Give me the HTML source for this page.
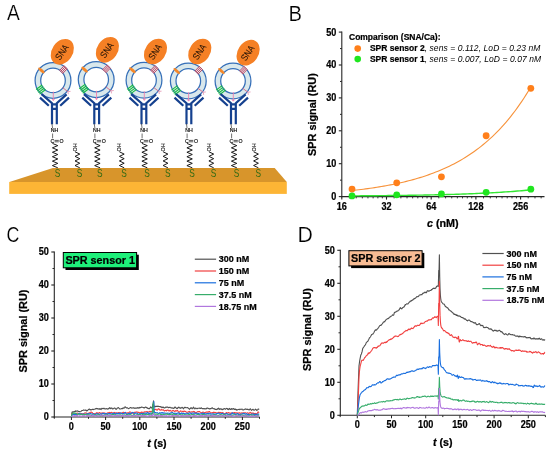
<!DOCTYPE html>
<html><head><meta charset="utf-8"><style>
html,body{margin:0;padding:0;background:#fff;width:550px;height:453px;overflow:hidden}
svg{display:block;filter:blur(0.3px);font-family:"Liberation Sans", sans-serif}
</style></head><body>
<svg width="550" height="453" viewBox="0 0 550 453" font-family="Liberation Sans, sans-serif">
<rect width="550" height="453" fill="#fff"/>
<text x="0" y="0" font-size="21.3" fill="#000" stroke="#fff" stroke-width="0.2" transform="translate(7.0,20.3) scale(0.9,1.0)">A</text>
<text x="0" y="0" font-size="21.3" fill="#000" stroke="#fff" stroke-width="0.2" transform="translate(288.6,20.7) scale(0.95,1.0)">B</text>
<text x="0" y="0" font-size="21.3" fill="#000" stroke="#fff" stroke-width="0.2" transform="translate(6.4,242.2) scale(0.84,1.0)">C</text>
<text x="0" y="0" font-size="21.3" fill="#000" stroke="#fff" stroke-width="0.2" transform="translate(297.4,242.2) scale(1.0,1.0)">D</text>
<polygon points="52.9,168 274.7,168 286.8,182 9.4,182" fill="#D8952B"/>
<rect x="9.2" y="182" width="277.6" height="11.9" fill="#FDB535"/>
<circle cx="53.00" cy="80.4" r="15.1" fill="none" stroke="#D9E8EC" stroke-width="5.4"/>
<circle cx="53.00" cy="80.4" r="17.9" fill="none" stroke="#356FB8" stroke-width="1.25"/>
<circle cx="53.00" cy="80.4" r="12.3" fill="none" stroke="#356FB8" stroke-width="1.25"/>
<ellipse cx="0" cy="0" rx="4.0" ry="1.5" fill="#F5882A" transform="translate(41.40,70.40) rotate(42)"/>
<g transform="translate(53.00,80.40) rotate(-46) translate(15.0,0)"><rect x="-3.2" y="-2.4" width="6.4" height="4.8" fill="#F2E2E6"/><line x1="-3.3" y1="-2.2" x2="3.3" y2="-2.2" stroke="#A3284A" stroke-width="0.75"/><line x1="-3.3" y1="-0.75" x2="3.3" y2="-0.75" stroke="#A3284A" stroke-width="0.75"/><line x1="-3.3" y1="0.75" x2="3.3" y2="0.75" stroke="#A3284A" stroke-width="0.75"/><line x1="-3.3" y1="2.2" x2="3.3" y2="2.2" stroke="#A3284A" stroke-width="0.75"/><line x1="-3.0" y1="-2.5" x2="-3.0" y2="2.5" stroke="#B3304C" stroke-width="0.6"/><line x1="3.0" y1="-2.5" x2="3.0" y2="2.5" stroke="#B3304C" stroke-width="0.6"/></g>
<g transform="translate(53.00,80.40) rotate(143) translate(15.2,0)"><line x1="-3.8" y1="-2.85" x2="3.8" y2="-2.85" stroke="#14BE3C" stroke-width="1.1"/><line x1="-3.8" y1="-0.95" x2="3.8" y2="-0.95" stroke="#14BE3C" stroke-width="1.1"/><line x1="-3.8" y1="0.95" x2="3.8" y2="0.95" stroke="#14BE3C" stroke-width="1.1"/><line x1="-3.8" y1="2.85" x2="3.8" y2="2.85" stroke="#14BE3C" stroke-width="1.1"/></g>
<line x1="53.30" y1="91.60" x2="53.30" y2="100.40" stroke="#EE7FAF" stroke-width="0.9"/>
<path d="M52.00,99.00 L53.30,100.60 L54.60,99.00" fill="none" stroke="#EE7FAF" stroke-width="0.8"/>
<g transform="translate(53.00,80.40) rotate(37)"><line x1="12" y1="0" x2="18.6" y2="0" stroke="#D4708F" stroke-width="0.9"/><path d="M18.6,0 L20.6,-1.8 M18.6,0 L20.6,1.8" fill="none" stroke="#E59AB5" stroke-width="0.8"/></g>
<path d="M41.60,94.2 L52.00,103.2 L52.00,124.2 M66.60,94.4 L56.80,103.2 L56.80,124.2 M52.00,104.4 H56.80 M52.00,108.9 H56.80" fill="none" stroke="#15418F" stroke-width="2.2"/>
<path d="M40.00,97.6 L48.80,105.8 M69.00,97.6 L60.20,105.8" fill="none" stroke="#15418F" stroke-width="2.2"/>
<line x1="52.00" y1="124" x2="52.60" y2="128.3" stroke="#333" stroke-width="0.7"/>
<text x="50.70" y="132.4" font-size="5.2" fill="#000" stroke="#000" stroke-width="0.15">NH</text>
<line x1="52.60" y1="133.5" x2="52.60" y2="138.3" stroke="#333" stroke-width="0.7"/>
<text x="50.40" y="142.9" font-size="5.2" fill="#000" stroke="#000" stroke-width="0.15">C</text>
<path d="M54.50,140.4 H58.80 M54.50,141.8 H58.80" stroke="#111" stroke-width="0.7"/>
<text x="59.40" y="142.9" font-size="5.2" fill="#000" stroke="#000" stroke-width="0.15">O</text>
<path d="M52.40,143.40 L57.80,145.62 L52.40,147.84 L57.80,150.05 L52.40,152.27 L57.80,154.49 L52.40,156.71 L57.80,158.93 L52.40,161.15 L57.80,163.36 L52.40,165.58 L57.80,167.80" fill="none" stroke="#1a1a1a" stroke-width="1.0"/>
<text x="0" y="0" font-size="10.2" fill="#336B14" transform="translate(54.70,176.9) scale(0.82,1)">S</text>
<text x="0" y="0" font-size="5.4" fill="#000" stroke="#000" stroke-width="0.1" transform="translate(77.00,151.4) rotate(-90)">OH</text>
<path d="M75.00,151.80 L79.80,154.09 L75.00,156.37 L79.80,158.66 L75.00,160.94 L79.80,163.23 L75.00,165.51 L79.80,167.80" fill="none" stroke="#1a1a1a" stroke-width="1.0"/>
<text x="0" y="0" font-size="10.2" fill="#336B14" transform="translate(76.80,176.9) scale(0.82,1)">S</text>
<ellipse cx="0" cy="0" rx="13.8" ry="10.4" fill="#F58025" transform="translate(62.3,51.8) rotate(-56)"/>
<text x="0" y="0" font-size="9.4" fill="#1E1006" stroke="#1E1006" stroke-width="0.05" text-anchor="middle" transform="translate(61.90,52.20) rotate(-56) translate(0,3.2) scale(0.84,1)">SNA</text>
<circle cx="96.20" cy="79.6" r="15.1" fill="none" stroke="#D9E8EC" stroke-width="5.4"/>
<circle cx="96.20" cy="79.6" r="17.9" fill="none" stroke="#356FB8" stroke-width="1.25"/>
<circle cx="96.20" cy="79.6" r="12.3" fill="none" stroke="#356FB8" stroke-width="1.25"/>
<ellipse cx="0" cy="0" rx="4.0" ry="1.5" fill="#F5882A" transform="translate(84.60,69.60) rotate(42)"/>
<g transform="translate(96.20,79.60) rotate(-46) translate(15.0,0)"><rect x="-3.2" y="-2.4" width="6.4" height="4.8" fill="#F2E2E6"/><line x1="-3.3" y1="-2.2" x2="3.3" y2="-2.2" stroke="#A3284A" stroke-width="0.75"/><line x1="-3.3" y1="-0.75" x2="3.3" y2="-0.75" stroke="#A3284A" stroke-width="0.75"/><line x1="-3.3" y1="0.75" x2="3.3" y2="0.75" stroke="#A3284A" stroke-width="0.75"/><line x1="-3.3" y1="2.2" x2="3.3" y2="2.2" stroke="#A3284A" stroke-width="0.75"/><line x1="-3.0" y1="-2.5" x2="-3.0" y2="2.5" stroke="#B3304C" stroke-width="0.6"/><line x1="3.0" y1="-2.5" x2="3.0" y2="2.5" stroke="#B3304C" stroke-width="0.6"/></g>
<g transform="translate(96.20,79.60) rotate(143) translate(15.2,0)"><line x1="-3.8" y1="-2.85" x2="3.8" y2="-2.85" stroke="#14BE3C" stroke-width="1.1"/><line x1="-3.8" y1="-0.95" x2="3.8" y2="-0.95" stroke="#14BE3C" stroke-width="1.1"/><line x1="-3.8" y1="0.95" x2="3.8" y2="0.95" stroke="#14BE3C" stroke-width="1.1"/><line x1="-3.8" y1="2.85" x2="3.8" y2="2.85" stroke="#14BE3C" stroke-width="1.1"/></g>
<line x1="96.50" y1="90.80" x2="96.50" y2="99.60" stroke="#EE7FAF" stroke-width="0.9"/>
<path d="M95.20,98.20 L96.50,99.80 L97.80,98.20" fill="none" stroke="#EE7FAF" stroke-width="0.8"/>
<g transform="translate(96.20,79.60) rotate(37)"><line x1="12" y1="0" x2="18.6" y2="0" stroke="#D4708F" stroke-width="0.9"/><path d="M18.6,0 L20.6,-1.8 M18.6,0 L20.6,1.8" fill="none" stroke="#E59AB5" stroke-width="0.8"/></g>
<path d="M83.90,94.2 L94.30,103.2 L94.30,124.2 M108.90,94.4 L99.10,103.2 L99.10,124.2 M94.30,104.4 H99.10 M94.30,108.9 H99.10" fill="none" stroke="#15418F" stroke-width="2.2"/>
<path d="M82.30,97.6 L91.10,105.8 M111.30,97.6 L102.50,105.8" fill="none" stroke="#15418F" stroke-width="2.2"/>
<line x1="94.30" y1="124" x2="94.90" y2="128.3" stroke="#333" stroke-width="0.7"/>
<text x="93.00" y="132.4" font-size="5.2" fill="#000" stroke="#000" stroke-width="0.15">NH</text>
<line x1="94.90" y1="133.5" x2="94.90" y2="138.3" stroke="#333" stroke-width="0.7"/>
<text x="92.70" y="142.9" font-size="5.2" fill="#000" stroke="#000" stroke-width="0.15">C</text>
<path d="M96.80,140.4 H101.10 M96.80,141.8 H101.10" stroke="#111" stroke-width="0.7"/>
<text x="101.70" y="142.9" font-size="5.2" fill="#000" stroke="#000" stroke-width="0.15">O</text>
<path d="M94.70,143.40 L100.10,145.62 L94.70,147.84 L100.10,150.05 L94.70,152.27 L100.10,154.49 L94.70,156.71 L100.10,158.93 L94.70,161.15 L100.10,163.36 L94.70,165.58 L100.10,167.80" fill="none" stroke="#1a1a1a" stroke-width="1.0"/>
<text x="0" y="0" font-size="10.2" fill="#336B14" transform="translate(97.00,176.9) scale(0.82,1)">S</text>
<text x="0" y="0" font-size="5.4" fill="#000" stroke="#000" stroke-width="0.1" transform="translate(121.40,151.4) rotate(-90)">OH</text>
<path d="M119.40,151.80 L124.20,154.09 L119.40,156.37 L124.20,158.66 L119.40,160.94 L124.20,163.23 L119.40,165.51 L124.20,167.80" fill="none" stroke="#1a1a1a" stroke-width="1.0"/>
<text x="0" y="0" font-size="10.2" fill="#336B14" transform="translate(121.20,176.9) scale(0.82,1)">S</text>
<ellipse cx="0" cy="0" rx="13.8" ry="10.4" fill="#F58025" transform="translate(107.4,49.8) rotate(-56)"/>
<text x="0" y="0" font-size="9.4" fill="#1E1006" stroke="#1E1006" stroke-width="0.05" text-anchor="middle" transform="translate(107.00,50.20) rotate(-56) translate(0,3.2) scale(0.84,1)">SNA</text>
<circle cx="144.00" cy="80.2" r="15.1" fill="none" stroke="#D9E8EC" stroke-width="5.4"/>
<circle cx="144.00" cy="80.2" r="17.9" fill="none" stroke="#356FB8" stroke-width="1.25"/>
<circle cx="144.00" cy="80.2" r="12.3" fill="none" stroke="#356FB8" stroke-width="1.25"/>
<ellipse cx="0" cy="0" rx="4.0" ry="1.5" fill="#F5882A" transform="translate(132.40,70.20) rotate(42)"/>
<g transform="translate(144.00,80.20) rotate(-46) translate(15.0,0)"><rect x="-3.2" y="-2.4" width="6.4" height="4.8" fill="#F2E2E6"/><line x1="-3.3" y1="-2.2" x2="3.3" y2="-2.2" stroke="#A3284A" stroke-width="0.75"/><line x1="-3.3" y1="-0.75" x2="3.3" y2="-0.75" stroke="#A3284A" stroke-width="0.75"/><line x1="-3.3" y1="0.75" x2="3.3" y2="0.75" stroke="#A3284A" stroke-width="0.75"/><line x1="-3.3" y1="2.2" x2="3.3" y2="2.2" stroke="#A3284A" stroke-width="0.75"/><line x1="-3.0" y1="-2.5" x2="-3.0" y2="2.5" stroke="#B3304C" stroke-width="0.6"/><line x1="3.0" y1="-2.5" x2="3.0" y2="2.5" stroke="#B3304C" stroke-width="0.6"/></g>
<g transform="translate(144.00,80.20) rotate(143) translate(15.2,0)"><line x1="-3.8" y1="-2.85" x2="3.8" y2="-2.85" stroke="#14BE3C" stroke-width="1.1"/><line x1="-3.8" y1="-0.95" x2="3.8" y2="-0.95" stroke="#14BE3C" stroke-width="1.1"/><line x1="-3.8" y1="0.95" x2="3.8" y2="0.95" stroke="#14BE3C" stroke-width="1.1"/><line x1="-3.8" y1="2.85" x2="3.8" y2="2.85" stroke="#14BE3C" stroke-width="1.1"/></g>
<line x1="144.30" y1="91.40" x2="144.30" y2="100.20" stroke="#EE7FAF" stroke-width="0.9"/>
<path d="M143.00,98.80 L144.30,100.40 L145.60,98.80" fill="none" stroke="#EE7FAF" stroke-width="0.8"/>
<g transform="translate(144.00,80.20) rotate(37)"><line x1="12" y1="0" x2="18.6" y2="0" stroke="#D4708F" stroke-width="0.9"/><path d="M18.6,0 L20.6,-1.8 M18.6,0 L20.6,1.8" fill="none" stroke="#E59AB5" stroke-width="0.8"/></g>
<path d="M131.10,94.2 L141.50,103.2 L141.50,124.2 M156.10,94.4 L146.30,103.2 L146.30,124.2 M141.50,104.4 H146.30 M141.50,108.9 H146.30" fill="none" stroke="#15418F" stroke-width="2.2"/>
<path d="M129.50,97.6 L138.30,105.8 M158.50,97.6 L149.70,105.8" fill="none" stroke="#15418F" stroke-width="2.2"/>
<line x1="141.50" y1="124" x2="142.10" y2="128.3" stroke="#333" stroke-width="0.7"/>
<text x="140.20" y="132.4" font-size="5.2" fill="#000" stroke="#000" stroke-width="0.15">NH</text>
<line x1="142.10" y1="133.5" x2="142.10" y2="138.3" stroke="#333" stroke-width="0.7"/>
<text x="139.90" y="142.9" font-size="5.2" fill="#000" stroke="#000" stroke-width="0.15">C</text>
<path d="M144.00,140.4 H148.30 M144.00,141.8 H148.30" stroke="#111" stroke-width="0.7"/>
<text x="148.90" y="142.9" font-size="5.2" fill="#000" stroke="#000" stroke-width="0.15">O</text>
<path d="M141.90,143.40 L147.30,145.62 L141.90,147.84 L147.30,150.05 L141.90,152.27 L147.30,154.49 L141.90,156.71 L147.30,158.93 L141.90,161.15 L147.30,163.36 L141.90,165.58 L147.30,167.80" fill="none" stroke="#1a1a1a" stroke-width="1.0"/>
<text x="0" y="0" font-size="10.2" fill="#336B14" transform="translate(144.20,176.9) scale(0.82,1)">S</text>
<text x="0" y="0" font-size="5.4" fill="#000" stroke="#000" stroke-width="0.1" transform="translate(165.10,151.4) rotate(-90)">OH</text>
<path d="M163.10,151.80 L167.90,154.09 L163.10,156.37 L167.90,158.66 L163.10,160.94 L167.90,163.23 L163.10,165.51 L167.90,167.80" fill="none" stroke="#1a1a1a" stroke-width="1.0"/>
<text x="0" y="0" font-size="10.2" fill="#336B14" transform="translate(164.90,176.9) scale(0.82,1)">S</text>
<ellipse cx="0" cy="0" rx="13.8" ry="10.4" fill="#F58025" transform="translate(155.5,51.5) rotate(-56)"/>
<text x="0" y="0" font-size="9.4" fill="#1E1006" stroke="#1E1006" stroke-width="0.05" text-anchor="middle" transform="translate(155.10,51.90) rotate(-56) translate(0,3.2) scale(0.84,1)">SNA</text>
<circle cx="188.30" cy="81.0" r="15.1" fill="none" stroke="#D9E8EC" stroke-width="5.4"/>
<circle cx="188.30" cy="81.0" r="17.9" fill="none" stroke="#356FB8" stroke-width="1.25"/>
<circle cx="188.30" cy="81.0" r="12.3" fill="none" stroke="#356FB8" stroke-width="1.25"/>
<ellipse cx="0" cy="0" rx="4.0" ry="1.5" fill="#F5882A" transform="translate(176.70,71.00) rotate(42)"/>
<g transform="translate(188.30,81.00) rotate(-46) translate(15.0,0)"><rect x="-3.2" y="-2.4" width="6.4" height="4.8" fill="#F2E2E6"/><line x1="-3.3" y1="-2.2" x2="3.3" y2="-2.2" stroke="#A3284A" stroke-width="0.75"/><line x1="-3.3" y1="-0.75" x2="3.3" y2="-0.75" stroke="#A3284A" stroke-width="0.75"/><line x1="-3.3" y1="0.75" x2="3.3" y2="0.75" stroke="#A3284A" stroke-width="0.75"/><line x1="-3.3" y1="2.2" x2="3.3" y2="2.2" stroke="#A3284A" stroke-width="0.75"/><line x1="-3.0" y1="-2.5" x2="-3.0" y2="2.5" stroke="#B3304C" stroke-width="0.6"/><line x1="3.0" y1="-2.5" x2="3.0" y2="2.5" stroke="#B3304C" stroke-width="0.6"/></g>
<g transform="translate(188.30,81.00) rotate(143) translate(15.2,0)"><line x1="-3.8" y1="-2.85" x2="3.8" y2="-2.85" stroke="#14BE3C" stroke-width="1.1"/><line x1="-3.8" y1="-0.95" x2="3.8" y2="-0.95" stroke="#14BE3C" stroke-width="1.1"/><line x1="-3.8" y1="0.95" x2="3.8" y2="0.95" stroke="#14BE3C" stroke-width="1.1"/><line x1="-3.8" y1="2.85" x2="3.8" y2="2.85" stroke="#14BE3C" stroke-width="1.1"/></g>
<line x1="188.60" y1="92.20" x2="188.60" y2="101.00" stroke="#EE7FAF" stroke-width="0.9"/>
<path d="M187.30,99.60 L188.60,101.20 L189.90,99.60" fill="none" stroke="#EE7FAF" stroke-width="0.8"/>
<g transform="translate(188.30,81.00) rotate(37)"><line x1="12" y1="0" x2="18.6" y2="0" stroke="#D4708F" stroke-width="0.9"/><path d="M18.6,0 L20.6,-1.8 M18.6,0 L20.6,1.8" fill="none" stroke="#E59AB5" stroke-width="0.8"/></g>
<path d="M176.10,94.2 L186.50,103.2 L186.50,124.2 M201.10,94.4 L191.30,103.2 L191.30,124.2 M186.50,104.4 H191.30 M186.50,108.9 H191.30" fill="none" stroke="#15418F" stroke-width="2.2"/>
<path d="M174.50,97.6 L183.30,105.8 M203.50,97.6 L194.70,105.8" fill="none" stroke="#15418F" stroke-width="2.2"/>
<line x1="186.50" y1="124" x2="187.10" y2="128.3" stroke="#333" stroke-width="0.7"/>
<text x="185.20" y="132.4" font-size="5.2" fill="#000" stroke="#000" stroke-width="0.15">NH</text>
<line x1="187.10" y1="133.5" x2="187.10" y2="138.3" stroke="#333" stroke-width="0.7"/>
<text x="184.90" y="142.9" font-size="5.2" fill="#000" stroke="#000" stroke-width="0.15">C</text>
<path d="M189.00,140.4 H193.30 M189.00,141.8 H193.30" stroke="#111" stroke-width="0.7"/>
<text x="193.90" y="142.9" font-size="5.2" fill="#000" stroke="#000" stroke-width="0.15">O</text>
<path d="M186.90,143.40 L192.30,145.62 L186.90,147.84 L192.30,150.05 L186.90,152.27 L192.30,154.49 L186.90,156.71 L192.30,158.93 L186.90,161.15 L192.30,163.36 L186.90,165.58 L192.30,167.80" fill="none" stroke="#1a1a1a" stroke-width="1.0"/>
<text x="0" y="0" font-size="10.2" fill="#336B14" transform="translate(189.20,176.9) scale(0.82,1)">S</text>
<text x="0" y="0" font-size="5.4" fill="#000" stroke="#000" stroke-width="0.1" transform="translate(210.90,151.4) rotate(-90)">OH</text>
<path d="M208.90,151.80 L213.70,154.09 L208.90,156.37 L213.70,158.66 L208.90,160.94 L213.70,163.23 L208.90,165.51 L213.70,167.80" fill="none" stroke="#1a1a1a" stroke-width="1.0"/>
<text x="0" y="0" font-size="10.2" fill="#336B14" transform="translate(210.70,176.9) scale(0.82,1)">S</text>
<ellipse cx="0" cy="0" rx="13.8" ry="10.4" fill="#F58025" transform="translate(199.8,51.5) rotate(-56)"/>
<text x="0" y="0" font-size="9.4" fill="#1E1006" stroke="#1E1006" stroke-width="0.05" text-anchor="middle" transform="translate(199.40,51.90) rotate(-56) translate(0,3.2) scale(0.84,1)">SNA</text>
<circle cx="233.00" cy="81.0" r="15.1" fill="none" stroke="#D9E8EC" stroke-width="5.4"/>
<circle cx="233.00" cy="81.0" r="17.9" fill="none" stroke="#356FB8" stroke-width="1.25"/>
<circle cx="233.00" cy="81.0" r="12.3" fill="none" stroke="#356FB8" stroke-width="1.25"/>
<ellipse cx="0" cy="0" rx="4.0" ry="1.5" fill="#F5882A" transform="translate(221.40,71.00) rotate(42)"/>
<g transform="translate(233.00,81.00) rotate(-46) translate(15.0,0)"><rect x="-3.2" y="-2.4" width="6.4" height="4.8" fill="#F2E2E6"/><line x1="-3.3" y1="-2.2" x2="3.3" y2="-2.2" stroke="#A3284A" stroke-width="0.75"/><line x1="-3.3" y1="-0.75" x2="3.3" y2="-0.75" stroke="#A3284A" stroke-width="0.75"/><line x1="-3.3" y1="0.75" x2="3.3" y2="0.75" stroke="#A3284A" stroke-width="0.75"/><line x1="-3.3" y1="2.2" x2="3.3" y2="2.2" stroke="#A3284A" stroke-width="0.75"/><line x1="-3.0" y1="-2.5" x2="-3.0" y2="2.5" stroke="#B3304C" stroke-width="0.6"/><line x1="3.0" y1="-2.5" x2="3.0" y2="2.5" stroke="#B3304C" stroke-width="0.6"/></g>
<g transform="translate(233.00,81.00) rotate(143) translate(15.2,0)"><line x1="-3.8" y1="-2.85" x2="3.8" y2="-2.85" stroke="#14BE3C" stroke-width="1.1"/><line x1="-3.8" y1="-0.95" x2="3.8" y2="-0.95" stroke="#14BE3C" stroke-width="1.1"/><line x1="-3.8" y1="0.95" x2="3.8" y2="0.95" stroke="#14BE3C" stroke-width="1.1"/><line x1="-3.8" y1="2.85" x2="3.8" y2="2.85" stroke="#14BE3C" stroke-width="1.1"/></g>
<line x1="233.30" y1="92.20" x2="233.30" y2="101.00" stroke="#EE7FAF" stroke-width="0.9"/>
<path d="M232.00,99.60 L233.30,101.20 L234.60,99.60" fill="none" stroke="#EE7FAF" stroke-width="0.8"/>
<g transform="translate(233.00,81.00) rotate(37)"><line x1="12" y1="0" x2="18.6" y2="0" stroke="#D4708F" stroke-width="0.9"/><path d="M18.6,0 L20.6,-1.8 M18.6,0 L20.6,1.8" fill="none" stroke="#E59AB5" stroke-width="0.8"/></g>
<path d="M220.60,94.2 L231.00,103.2 L231.00,124.2 M245.60,94.4 L235.80,103.2 L235.80,124.2 M231.00,104.4 H235.80 M231.00,108.9 H235.80" fill="none" stroke="#15418F" stroke-width="2.2"/>
<path d="M219.00,97.6 L227.80,105.8 M248.00,97.6 L239.20,105.8" fill="none" stroke="#15418F" stroke-width="2.2"/>
<line x1="231.00" y1="124" x2="231.60" y2="128.3" stroke="#333" stroke-width="0.7"/>
<text x="229.70" y="132.4" font-size="5.2" fill="#000" stroke="#000" stroke-width="0.15">NH</text>
<line x1="231.60" y1="133.5" x2="231.60" y2="138.3" stroke="#333" stroke-width="0.7"/>
<text x="229.40" y="142.9" font-size="5.2" fill="#000" stroke="#000" stroke-width="0.15">C</text>
<path d="M233.50,140.4 H237.80 M233.50,141.8 H237.80" stroke="#111" stroke-width="0.7"/>
<text x="238.40" y="142.9" font-size="5.2" fill="#000" stroke="#000" stroke-width="0.15">O</text>
<path d="M231.40,143.40 L236.80,145.62 L231.40,147.84 L236.80,150.05 L231.40,152.27 L236.80,154.49 L231.40,156.71 L236.80,158.93 L231.40,161.15 L236.80,163.36 L231.40,165.58 L236.80,167.80" fill="none" stroke="#1a1a1a" stroke-width="1.0"/>
<text x="0" y="0" font-size="10.2" fill="#336B14" transform="translate(233.70,176.9) scale(0.82,1)">S</text>
<text x="0" y="0" font-size="5.4" fill="#000" stroke="#000" stroke-width="0.1" transform="translate(255.60,151.4) rotate(-90)">OH</text>
<path d="M253.60,151.80 L258.40,154.09 L253.60,156.37 L258.40,158.66 L253.60,160.94 L258.40,163.23 L253.60,165.51 L258.40,167.80" fill="none" stroke="#1a1a1a" stroke-width="1.0"/>
<text x="0" y="0" font-size="10.2" fill="#336B14" transform="translate(255.40,176.9) scale(0.82,1)">S</text>
<ellipse cx="0" cy="0" rx="13.8" ry="10.4" fill="#F58025" transform="translate(248.1,52.7) rotate(-56)"/>
<text x="0" y="0" font-size="9.4" fill="#1E1006" stroke="#1E1006" stroke-width="0.05" text-anchor="middle" transform="translate(247.70,53.10) rotate(-56) translate(0,3.2) scale(0.84,1)">SNA</text>
<line x1="341.8" y1="31.599999999999994" x2="341.8" y2="197.2" stroke="#262626" stroke-width="1.1"/>
<line x1="338.8" y1="196.60" x2="341.8" y2="196.60" stroke="#262626" stroke-width="1.1"/>
<text x="0" y="0" font-size="9.5" font-weight="bold" stroke="#000" stroke-width="0.22" text-anchor="end" transform="translate(336.40,200.00) scale(0.96,1.06)">0</text>
<line x1="338.8" y1="163.70" x2="341.8" y2="163.70" stroke="#262626" stroke-width="1.1"/>
<text x="0" y="0" font-size="9.5" font-weight="bold" stroke="#000" stroke-width="0.22" text-anchor="end" transform="translate(336.40,167.10) scale(0.96,1.06)">10</text>
<line x1="338.8" y1="130.80" x2="341.8" y2="130.80" stroke="#262626" stroke-width="1.1"/>
<text x="0" y="0" font-size="9.5" font-weight="bold" stroke="#000" stroke-width="0.22" text-anchor="end" transform="translate(336.40,134.20) scale(0.96,1.06)">20</text>
<line x1="338.8" y1="97.90" x2="341.8" y2="97.90" stroke="#262626" stroke-width="1.1"/>
<text x="0" y="0" font-size="9.5" font-weight="bold" stroke="#000" stroke-width="0.22" text-anchor="end" transform="translate(336.40,101.30) scale(0.96,1.06)">30</text>
<line x1="338.8" y1="65.00" x2="341.8" y2="65.00" stroke="#262626" stroke-width="1.1"/>
<text x="0" y="0" font-size="9.5" font-weight="bold" stroke="#000" stroke-width="0.22" text-anchor="end" transform="translate(336.40,68.40) scale(0.96,1.06)">40</text>
<line x1="338.8" y1="32.10" x2="341.8" y2="32.10" stroke="#262626" stroke-width="1.1"/>
<text x="0" y="0" font-size="9.5" font-weight="bold" stroke="#000" stroke-width="0.22" text-anchor="end" transform="translate(336.40,35.50) scale(0.96,1.06)">50</text>
<line x1="340.0" y1="180.15" x2="341.8" y2="180.15" stroke="#262626" stroke-width="1"/>
<line x1="340.0" y1="147.25" x2="341.8" y2="147.25" stroke="#262626" stroke-width="1"/>
<line x1="340.0" y1="114.35" x2="341.8" y2="114.35" stroke="#262626" stroke-width="1"/>
<line x1="340.0" y1="81.45" x2="341.8" y2="81.45" stroke="#262626" stroke-width="1"/>
<line x1="340.0" y1="48.55" x2="341.8" y2="48.55" stroke="#262626" stroke-width="1"/>
<text x="0" y="0" font-size="10" font-weight="bold" stroke="#000" stroke-width="0.22" text-anchor="middle" transform="translate(315.5,114.6) rotate(-90) scale(1.09,1)">SPR signal (RU)</text>
<line x1="341.3" y1="196.6" x2="544.5" y2="196.6" stroke="#262626" stroke-width="1.1"/>
<line x1="341.80" y1="196.6" x2="341.80" y2="199.6" stroke="#262626" stroke-width="1.1"/>
<text x="0" y="0" font-size="9.5" font-weight="bold" stroke="#000" stroke-width="0.22" text-anchor="middle" transform="translate(341.80,209.50) scale(0.96,1.06)">16</text>
<line x1="386.50" y1="196.6" x2="386.50" y2="199.6" stroke="#262626" stroke-width="1.1"/>
<text x="0" y="0" font-size="9.5" font-weight="bold" stroke="#000" stroke-width="0.22" text-anchor="middle" transform="translate(386.50,209.50) scale(0.96,1.06)">32</text>
<line x1="431.20" y1="196.6" x2="431.20" y2="199.6" stroke="#262626" stroke-width="1.1"/>
<text x="0" y="0" font-size="9.5" font-weight="bold" stroke="#000" stroke-width="0.22" text-anchor="middle" transform="translate(431.20,209.50) scale(0.96,1.06)">64</text>
<line x1="475.90" y1="196.6" x2="475.90" y2="199.6" stroke="#262626" stroke-width="1.1"/>
<text x="0" y="0" font-size="9.5" font-weight="bold" stroke="#000" stroke-width="0.22" text-anchor="middle" transform="translate(475.90,209.50) scale(0.96,1.06)">128</text>
<line x1="520.60" y1="196.6" x2="520.60" y2="199.6" stroke="#262626" stroke-width="1.1"/>
<text x="0" y="0" font-size="9.5" font-weight="bold" stroke="#000" stroke-width="0.22" text-anchor="middle" transform="translate(520.60,209.50) scale(0.96,1.06)">256</text>
<line x1="349.40" y1="196.6" x2="349.40" y2="198.4" stroke="#262626" stroke-width="0.9"/>
<line x1="356.19" y1="196.6" x2="356.19" y2="198.4" stroke="#262626" stroke-width="0.9"/>
<line x1="362.34" y1="196.6" x2="362.34" y2="198.4" stroke="#262626" stroke-width="0.9"/>
<line x1="367.95" y1="196.6" x2="367.95" y2="198.4" stroke="#262626" stroke-width="0.9"/>
<line x1="373.11" y1="196.6" x2="373.11" y2="198.4" stroke="#262626" stroke-width="0.9"/>
<line x1="377.89" y1="196.6" x2="377.89" y2="198.4" stroke="#262626" stroke-width="0.9"/>
<line x1="382.34" y1="196.6" x2="382.34" y2="198.4" stroke="#262626" stroke-width="0.9"/>
<line x1="394.10" y1="196.6" x2="394.10" y2="198.4" stroke="#262626" stroke-width="0.9"/>
<line x1="400.89" y1="196.6" x2="400.89" y2="198.4" stroke="#262626" stroke-width="0.9"/>
<line x1="407.04" y1="196.6" x2="407.04" y2="198.4" stroke="#262626" stroke-width="0.9"/>
<line x1="412.65" y1="196.6" x2="412.65" y2="198.4" stroke="#262626" stroke-width="0.9"/>
<line x1="417.81" y1="196.6" x2="417.81" y2="198.4" stroke="#262626" stroke-width="0.9"/>
<line x1="422.59" y1="196.6" x2="422.59" y2="198.4" stroke="#262626" stroke-width="0.9"/>
<line x1="427.04" y1="196.6" x2="427.04" y2="198.4" stroke="#262626" stroke-width="0.9"/>
<line x1="438.80" y1="196.6" x2="438.80" y2="198.4" stroke="#262626" stroke-width="0.9"/>
<line x1="445.59" y1="196.6" x2="445.59" y2="198.4" stroke="#262626" stroke-width="0.9"/>
<line x1="451.74" y1="196.6" x2="451.74" y2="198.4" stroke="#262626" stroke-width="0.9"/>
<line x1="457.35" y1="196.6" x2="457.35" y2="198.4" stroke="#262626" stroke-width="0.9"/>
<line x1="462.51" y1="196.6" x2="462.51" y2="198.4" stroke="#262626" stroke-width="0.9"/>
<line x1="467.29" y1="196.6" x2="467.29" y2="198.4" stroke="#262626" stroke-width="0.9"/>
<line x1="471.74" y1="196.6" x2="471.74" y2="198.4" stroke="#262626" stroke-width="0.9"/>
<line x1="483.50" y1="196.6" x2="483.50" y2="198.4" stroke="#262626" stroke-width="0.9"/>
<line x1="490.29" y1="196.6" x2="490.29" y2="198.4" stroke="#262626" stroke-width="0.9"/>
<line x1="496.44" y1="196.6" x2="496.44" y2="198.4" stroke="#262626" stroke-width="0.9"/>
<line x1="502.05" y1="196.6" x2="502.05" y2="198.4" stroke="#262626" stroke-width="0.9"/>
<line x1="507.21" y1="196.6" x2="507.21" y2="198.4" stroke="#262626" stroke-width="0.9"/>
<line x1="511.99" y1="196.6" x2="511.99" y2="198.4" stroke="#262626" stroke-width="0.9"/>
<line x1="516.44" y1="196.6" x2="516.44" y2="198.4" stroke="#262626" stroke-width="0.9"/>
<line x1="528.20" y1="196.6" x2="528.20" y2="198.4" stroke="#262626" stroke-width="0.9"/>
<line x1="534.99" y1="196.6" x2="534.99" y2="198.4" stroke="#262626" stroke-width="0.9"/>
<line x1="541.14" y1="196.6" x2="541.14" y2="198.4" stroke="#262626" stroke-width="0.9"/>
<text x="0" y="0" font-size="10" font-weight="bold" stroke="#000" stroke-width="0.22" text-anchor="middle" transform="translate(442.8,226.6) scale(1.08,1.05)"><tspan font-style="italic">c</tspan> (nM)</text>
<polyline points="352.03,190.51 354.29,190.27 356.55,190.01 358.82,189.75 361.08,189.47 363.34,189.19 365.61,188.89 367.87,188.59 370.13,188.27 372.40,187.95 374.66,187.61 376.92,187.26 379.19,186.90 381.45,186.52 383.71,186.13 385.98,185.73 388.24,185.31 390.50,184.88 392.77,184.43 395.03,183.96 397.29,183.48 399.56,182.98 401.82,182.47 404.08,181.93 406.35,181.38 408.61,180.81 410.87,180.22 413.14,179.60 415.40,178.96 417.66,178.30 419.93,177.62 422.19,176.91 424.45,176.18 426.72,175.42 428.98,174.64 431.24,173.82 433.51,172.98 435.77,172.11 438.03,171.20 440.30,170.27 442.56,169.30 444.82,168.29 447.09,167.25 449.35,166.17 451.61,165.06 453.88,163.90 456.14,162.71 458.40,161.46 460.67,160.18 462.93,158.85 465.19,157.47 467.46,156.05 469.72,154.57 471.98,153.04 474.25,151.45 476.51,149.81 478.77,148.11 481.04,146.35 483.30,144.52 485.56,142.63 487.83,140.68 490.09,138.65 492.35,136.55 494.62,134.38 496.88,132.12 499.14,129.79 501.41,127.38 503.67,124.87 505.93,122.28 508.20,119.60 510.46,116.82 512.72,113.94 514.99,110.96 517.25,107.87 519.51,104.67 521.78,101.36 524.04,97.93 526.30,94.37 528.56,90.69 530.83,86.88" fill="none" stroke="#F7923A" stroke-width="1.1"/>
<polyline points="352.03,195.87 354.29,195.86 356.55,195.84 358.82,195.83 361.08,195.81 363.34,195.79 365.61,195.78 367.87,195.76 370.13,195.74 372.40,195.72 374.66,195.70 376.92,195.68 379.19,195.66 381.45,195.64 383.71,195.62 385.98,195.59 388.24,195.57 390.50,195.54 392.77,195.52 395.03,195.49 397.29,195.46 399.56,195.43 401.82,195.40 404.08,195.37 406.35,195.34 408.61,195.31 410.87,195.27 413.14,195.24 415.40,195.20 417.66,195.16 419.93,195.12 422.19,195.08 424.45,195.04 426.72,194.99 428.98,194.95 431.24,194.90 433.51,194.85 435.77,194.80 438.03,194.75 440.30,194.70 442.56,194.64 444.82,194.58 447.09,194.52 449.35,194.46 451.61,194.39 453.88,194.33 456.14,194.26 458.40,194.18 460.67,194.11 462.93,194.03 465.19,193.95 467.46,193.87 469.72,193.78 471.98,193.70 474.25,193.60 476.51,193.51 478.77,193.41 481.04,193.31 483.30,193.20 485.56,193.09 487.83,192.98 490.09,192.86 492.35,192.74 494.62,192.61 496.88,192.48 499.14,192.35 501.41,192.21 503.67,192.06 505.93,191.91 508.20,191.75 510.46,191.59 512.72,191.43 514.99,191.25 517.25,191.07 519.51,190.89 521.78,190.70 524.04,190.50 526.30,190.29 528.56,190.08 530.83,189.86" fill="none" stroke="#33E633" stroke-width="1.4"/>
<circle cx="352.03" cy="189.03" r="3.4" fill="#FF7F1A"/>
<circle cx="396.73" cy="182.78" r="3.4" fill="#FF7F1A"/>
<circle cx="441.43" cy="176.86" r="3.4" fill="#FF7F1A"/>
<circle cx="486.13" cy="135.73" r="3.4" fill="#FF7F1A"/>
<circle cx="530.83" cy="88.36" r="3.4" fill="#FF7F1A"/>
<circle cx="352.03" cy="195.94" r="3.4" fill="#1FE61F"/>
<circle cx="396.73" cy="194.79" r="3.4" fill="#1FE61F"/>
<circle cx="441.43" cy="193.97" r="3.4" fill="#1FE61F"/>
<circle cx="486.13" cy="192.32" r="3.4" fill="#1FE61F"/>
<circle cx="530.83" cy="189.20" r="3.4" fill="#1FE61F"/>
<text x="0" y="0" font-size="8.5" font-weight="bold" stroke="#000" stroke-width="0.22" transform="translate(349,40.4) scale(1,1.1)">Comparison (SNA/Ca):</text>
<circle cx="357.7" cy="48.6" r="3.3" fill="#FF7F1A"/>
<circle cx="357.7" cy="59.1" r="3.3" fill="#1FE61F"/>
<text x="0" y="0" font-size="8.5" transform="translate(369.9,51.2) scale(1,1.1)"><tspan font-weight="bold" stroke="#000" stroke-width="0.2">SPR sensor 2</tspan><tspan font-style="italic" letter-spacing="0.08">, sens = 0.112, LoD = 0.23 nM</tspan></text>
<text x="0" y="0" font-size="8.5" transform="translate(369.9,61.6) scale(1,1.1)"><tspan font-weight="bold" stroke="#000" stroke-width="0.2">SPR sensor 1</tspan><tspan font-style="italic" letter-spacing="0.08">, sens = 0.007, LoD = 0.07 nM</tspan></text>
<line x1="54.3" y1="251.5" x2="54.3" y2="417.6" stroke="#262626" stroke-width="1.1"/>
<line x1="51.3" y1="417.00" x2="54.3" y2="417.00" stroke="#262626" stroke-width="1.1"/>
<text x="0" y="0" font-size="9.5" font-weight="bold" stroke="#000" stroke-width="0.22" text-anchor="end" transform="translate(48.90,420.40) scale(0.96,1.06)">0</text>
<line x1="51.3" y1="384.00" x2="54.3" y2="384.00" stroke="#262626" stroke-width="1.1"/>
<text x="0" y="0" font-size="9.5" font-weight="bold" stroke="#000" stroke-width="0.22" text-anchor="end" transform="translate(48.90,387.40) scale(0.96,1.06)">10</text>
<line x1="51.3" y1="351.00" x2="54.3" y2="351.00" stroke="#262626" stroke-width="1.1"/>
<text x="0" y="0" font-size="9.5" font-weight="bold" stroke="#000" stroke-width="0.22" text-anchor="end" transform="translate(48.90,354.40) scale(0.96,1.06)">20</text>
<line x1="51.3" y1="318.00" x2="54.3" y2="318.00" stroke="#262626" stroke-width="1.1"/>
<text x="0" y="0" font-size="9.5" font-weight="bold" stroke="#000" stroke-width="0.22" text-anchor="end" transform="translate(48.90,321.40) scale(0.96,1.06)">30</text>
<line x1="51.3" y1="285.00" x2="54.3" y2="285.00" stroke="#262626" stroke-width="1.1"/>
<text x="0" y="0" font-size="9.5" font-weight="bold" stroke="#000" stroke-width="0.22" text-anchor="end" transform="translate(48.90,288.40) scale(0.96,1.06)">40</text>
<line x1="51.3" y1="252.00" x2="54.3" y2="252.00" stroke="#262626" stroke-width="1.1"/>
<text x="0" y="0" font-size="9.5" font-weight="bold" stroke="#000" stroke-width="0.22" text-anchor="end" transform="translate(48.90,255.40) scale(0.96,1.06)">50</text>
<line x1="52.5" y1="400.50" x2="54.3" y2="400.50" stroke="#262626" stroke-width="1"/>
<line x1="52.5" y1="367.50" x2="54.3" y2="367.50" stroke="#262626" stroke-width="1"/>
<line x1="52.5" y1="334.50" x2="54.3" y2="334.50" stroke="#262626" stroke-width="1"/>
<line x1="52.5" y1="301.50" x2="54.3" y2="301.50" stroke="#262626" stroke-width="1"/>
<line x1="52.5" y1="268.50" x2="54.3" y2="268.50" stroke="#262626" stroke-width="1"/>
<text x="0" y="0" font-size="10" font-weight="bold" stroke="#000" stroke-width="0.22" text-anchor="middle" transform="translate(26.5,331) rotate(-90) scale(1.09,1)">SPR signal (RU)</text>
<line x1="53.8" y1="417.0" x2="259.50" y2="417.0" stroke="#262626" stroke-width="1.1"/>
<line x1="54.30" y1="417.0" x2="54.30" y2="418.8" stroke="#262626" stroke-width="1"/>
<line x1="71.40" y1="417.0" x2="71.40" y2="420.0" stroke="#262626" stroke-width="1"/>
<text x="0" y="0" font-size="9.5" font-weight="bold" stroke="#000" stroke-width="0.22" text-anchor="middle" transform="translate(71.40,429.80) scale(0.96,1.06)">0</text>
<line x1="88.50" y1="417.0" x2="88.50" y2="418.8" stroke="#262626" stroke-width="1"/>
<line x1="105.60" y1="417.0" x2="105.60" y2="420.0" stroke="#262626" stroke-width="1"/>
<text x="0" y="0" font-size="9.5" font-weight="bold" stroke="#000" stroke-width="0.22" text-anchor="middle" transform="translate(105.60,429.80) scale(0.96,1.06)">50</text>
<line x1="122.70" y1="417.0" x2="122.70" y2="418.8" stroke="#262626" stroke-width="1"/>
<line x1="139.80" y1="417.0" x2="139.80" y2="420.0" stroke="#262626" stroke-width="1"/>
<text x="0" y="0" font-size="9.5" font-weight="bold" stroke="#000" stroke-width="0.22" text-anchor="middle" transform="translate(139.80,429.80) scale(0.96,1.06)">100</text>
<line x1="156.90" y1="417.0" x2="156.90" y2="418.8" stroke="#262626" stroke-width="1"/>
<line x1="174.00" y1="417.0" x2="174.00" y2="420.0" stroke="#262626" stroke-width="1"/>
<text x="0" y="0" font-size="9.5" font-weight="bold" stroke="#000" stroke-width="0.22" text-anchor="middle" transform="translate(174.00,429.80) scale(0.96,1.06)">150</text>
<line x1="191.10" y1="417.0" x2="191.10" y2="418.8" stroke="#262626" stroke-width="1"/>
<line x1="208.20" y1="417.0" x2="208.20" y2="420.0" stroke="#262626" stroke-width="1"/>
<text x="0" y="0" font-size="9.5" font-weight="bold" stroke="#000" stroke-width="0.22" text-anchor="middle" transform="translate(208.20,429.80) scale(0.96,1.06)">200</text>
<line x1="225.30" y1="417.0" x2="225.30" y2="418.8" stroke="#262626" stroke-width="1"/>
<line x1="242.40" y1="417.0" x2="242.40" y2="420.0" stroke="#262626" stroke-width="1"/>
<text x="0" y="0" font-size="9.5" font-weight="bold" stroke="#000" stroke-width="0.22" text-anchor="middle" transform="translate(242.40,429.80) scale(0.96,1.06)">250</text>
<line x1="259.50" y1="417.0" x2="259.50" y2="418.8" stroke="#262626" stroke-width="1"/>
<text x="0" y="0" font-size="10" font-weight="bold" stroke="#000" stroke-width="0.22" text-anchor="middle" transform="translate(156.90,447.20) scale(1.06,1.08)"><tspan font-style="italic">t</tspan> (s)</text>
<clipPath id="clipC"><rect x="54.400000000000006" y="247.0" width="205" height="170.5"/></clipPath>
<g clip-path="url(#clipC)">
<polyline points="71.40,417.00 71.74,413.51 72.08,411.91 72.43,411.81 72.77,412.09 73.11,412.10 73.45,411.88 73.79,411.54 74.14,411.76 74.48,411.45 74.82,411.40 75.16,411.36 75.50,410.92 75.85,411.33 76.19,411.16 76.53,411.10 76.87,411.08 77.21,410.99 77.56,410.90 77.90,411.25 78.24,411.50 78.58,411.33 78.92,411.59 79.27,411.78 79.61,411.57 79.95,411.72 80.29,411.80 80.63,411.65 80.98,411.41 81.32,411.06 81.66,410.79 82.00,410.58 82.34,410.46 82.69,410.46 83.03,410.44 83.37,410.10 83.71,409.92 84.05,410.09 84.40,410.17 84.74,410.18 85.08,410.33 85.42,409.99 85.76,410.07 86.11,410.26 86.45,410.48 86.79,411.10 87.13,410.74 87.47,410.43 87.82,410.37 88.16,409.61 88.50,409.42 88.84,409.36 89.18,409.06 89.53,409.12 89.87,409.58 90.21,409.55 90.55,409.47 90.89,410.06 91.24,409.64 91.58,409.80 91.92,409.73 92.26,409.39 92.60,409.44 92.95,409.27 93.29,409.62 93.63,409.34 93.97,409.33 94.31,409.27 94.66,409.16 95.00,409.01 95.34,408.82 95.68,408.95 96.02,408.66 96.37,408.59 96.71,408.29 97.05,408.59 97.39,408.51 97.73,408.67 98.08,409.08 98.42,408.93 98.76,408.83 99.10,409.21 99.44,409.04 99.79,408.50 100.13,409.14 100.47,408.90 100.81,409.32 101.15,409.55 101.50,408.82 101.84,408.27 102.18,408.37 102.52,408.54 102.86,408.72 103.21,408.81 103.55,408.29 103.89,408.32 104.23,408.40 104.57,408.76 104.92,408.89 105.26,408.88 105.60,408.85 105.94,408.76 106.28,408.73 106.63,408.60 106.97,408.98 107.31,409.15 107.65,408.84 107.99,408.83 108.34,408.85 108.68,408.42 109.02,408.57 109.36,408.03 109.70,407.68 110.05,408.09 110.39,408.53 110.73,408.71 111.07,408.12 111.41,408.20 111.76,408.00 112.10,408.16 112.44,408.94 112.78,408.80 113.12,408.73 113.47,408.81 113.81,408.36 114.15,408.29 114.49,407.99 114.83,408.12 115.18,408.29 115.52,408.78 115.86,409.32 116.20,409.03 116.54,409.24 116.89,408.60 117.23,408.14 117.57,408.01 117.91,407.68 118.25,407.57 118.60,407.71 118.94,408.17 119.28,408.51 119.62,408.85 119.96,409.08 120.31,409.03 120.65,408.88 120.99,408.70 121.33,408.51 121.67,408.82 122.02,408.80 122.36,408.80 122.70,408.46 123.04,407.87 123.38,407.99 123.73,408.20 124.07,407.98 124.41,407.93 124.75,407.34 125.09,406.67 125.44,407.31 125.78,407.38 126.12,407.69 126.46,408.03 126.80,407.71 127.15,407.74 127.49,407.79 127.83,408.25 128.17,408.39 128.51,408.60 128.86,408.59 129.20,408.34 129.54,408.14 129.88,407.77 130.22,407.71 130.57,407.51 130.91,407.62 131.25,407.89 131.59,407.99 131.93,408.16 132.28,408.08 132.62,407.95 132.96,407.77 133.30,407.94 133.64,407.81 133.99,407.98 134.33,408.27 134.67,407.99 135.01,408.31 135.35,408.06 135.70,408.01 136.04,408.20 136.38,408.25 136.72,408.00 137.06,407.85 137.41,407.86 137.75,407.65 138.09,408.30 138.43,407.89 138.77,407.97 139.12,407.85 139.46,407.36 139.80,408.10 140.14,407.67 140.48,407.55 140.83,407.56 141.17,407.16 141.51,407.01 141.85,407.20 142.19,407.23 142.54,407.32 142.88,407.39 143.22,407.65 143.56,407.54 143.90,407.63 144.25,408.03 144.59,407.73 144.93,407.53 145.27,407.19 145.61,407.06 145.96,406.99 146.30,407.49 146.64,407.74 146.98,407.61 147.32,408.31 147.67,408.17 148.01,408.38 148.35,408.57 148.69,408.38 149.03,408.79 149.38,408.77 149.72,408.43 150.06,407.72 150.40,407.38 150.74,406.92 151.09,407.19 151.43,408.02 151.77,407.84 152.11,407.90 152.45,407.91 152.80,404.22 153.14,404.19 153.48,400.74 153.82,405.19 154.16,406.48 154.51,406.89 154.85,406.96 155.19,406.81 155.53,406.35 155.87,406.42 156.22,406.19 156.56,406.22 156.90,406.48 157.24,406.16 157.58,406.43 157.93,406.50 158.27,406.22 158.61,406.29 158.95,406.37 159.29,406.42 159.64,406.61 159.98,406.73 160.32,406.74 160.66,406.55 161.00,407.14 161.35,407.13 161.69,407.03 162.03,407.68 162.37,407.13 162.71,407.18 163.06,407.46 163.40,407.07 163.74,407.47 164.08,408.01 164.42,407.91 164.77,408.01 165.11,407.78 165.45,407.32 165.79,407.17 166.13,407.14 166.48,407.36 166.82,407.14 167.16,407.13 167.50,407.19 167.84,407.03 168.19,407.56 168.53,407.78 168.87,407.51 169.21,407.57 169.55,407.41 169.90,407.18 170.24,407.66 170.58,407.69 170.92,407.79 171.26,407.82 171.61,408.09 171.95,407.86 172.29,407.84 172.63,408.28 172.97,407.98 173.32,408.38 173.66,408.24 174.00,408.15 174.34,408.02 174.68,407.11 175.03,407.45 175.37,407.12 175.71,407.30 176.05,408.10 176.39,408.23 176.74,408.59 177.08,408.42 177.42,408.49 177.76,407.70 178.10,407.61 178.45,407.69 178.79,407.02 179.13,407.58 179.47,407.64 179.81,407.69 180.16,408.39 180.50,408.02 180.84,407.80 181.18,407.97 181.52,407.92 181.87,407.52 182.21,407.27 182.55,407.74 182.89,407.83 183.23,408.65 183.58,408.81 183.92,408.22 184.26,407.75 184.60,407.34 184.94,407.29 185.29,407.21 185.63,407.68 185.97,407.82 186.31,407.74 186.65,407.67 187.00,407.75 187.34,407.54 187.68,407.80 188.02,407.95 188.36,408.06 188.71,408.49 189.05,408.69 189.39,409.33 189.73,408.92 190.07,408.66 190.42,408.57 190.76,407.70 191.10,407.84 191.44,407.89 191.78,408.42 192.13,408.72 192.47,408.71 192.81,408.43 193.15,407.45 193.49,407.07 193.84,407.47 194.18,408.35 194.52,408.65 194.86,408.98 195.20,408.50 195.55,408.03 195.89,408.12 196.23,408.48 196.57,408.60 196.91,408.68 197.26,408.66 197.60,408.22 197.94,408.35 198.28,408.19 198.62,408.28 198.97,408.22 199.31,408.08 199.65,408.29 199.99,408.43 200.33,408.21 200.68,408.35 201.02,408.00 201.36,407.79 201.70,408.32 202.04,408.48 202.39,408.69 202.73,408.73 203.07,408.46 203.41,408.59 203.75,408.76 204.10,408.85 204.44,408.63 204.78,408.89 205.12,408.66 205.46,408.77 205.81,409.04 206.15,408.62 206.49,408.64 206.83,408.17 207.17,408.19 207.52,407.98 207.86,407.99 208.20,408.53 208.54,408.49 208.88,408.65 209.23,408.93 209.57,408.77 209.91,408.96 210.25,408.74 210.59,408.57 210.94,408.69 211.28,408.31 211.62,408.27 211.96,407.97 212.30,407.72 212.65,408.09 212.99,408.42 213.33,408.78 213.67,408.71 214.01,408.67 214.36,408.92 214.70,408.87 215.04,409.43 215.38,409.42 215.72,409.36 216.07,409.65 216.41,409.31 216.75,409.37 217.09,409.49 217.43,409.03 217.78,408.57 218.12,408.90 218.46,408.11 218.80,408.44 219.14,409.06 219.49,408.77 219.83,409.53 220.17,409.08 220.51,408.86 220.85,409.00 221.20,408.74 221.54,409.40 221.88,409.60 222.22,409.22 222.56,409.56 222.91,409.32 223.25,409.21 223.59,409.19 223.93,408.49 224.27,408.51 224.62,408.72 224.96,408.86 225.30,409.27 225.64,409.24 225.98,408.83 226.33,408.55 226.67,408.41 227.01,408.39 227.35,408.52 227.69,409.35 228.04,409.42 228.38,409.63 228.72,409.22 229.06,408.63 229.40,408.60 229.75,408.41 230.09,409.54 230.43,409.55 230.77,409.22 231.11,409.35 231.46,408.62 231.80,408.63 232.14,409.36 232.48,408.99 232.82,408.84 233.17,408.96 233.51,408.63 233.85,408.67 234.19,409.35 234.53,409.38 234.88,409.13 235.22,409.61 235.56,409.03 235.90,409.16 236.24,409.89 236.59,409.63 236.93,410.09 237.27,409.93 237.61,409.73 237.95,409.47 238.30,409.43 238.64,409.43 238.98,409.30 239.32,409.62 239.66,409.19 240.01,409.23 240.35,409.19 240.69,409.41 241.03,409.42 241.37,409.31 241.72,409.30 242.06,408.97 242.40,409.48 242.74,409.89 243.08,410.01 243.43,409.99 243.77,409.70 244.11,409.64 244.45,409.29 244.79,409.20 245.14,409.23 245.48,408.83 245.82,409.07 246.16,409.29 246.50,409.23 246.85,409.48 247.19,409.24 247.53,409.51 247.87,409.30 248.21,409.48 248.56,409.70 248.90,409.74 249.24,409.94 249.58,409.47 249.92,409.20 250.27,408.69 250.61,409.20 250.95,409.68 251.29,410.04 251.63,410.45 251.98,409.84 252.32,409.63 252.66,409.54 253.00,409.22 253.34,409.70 253.69,409.96 254.03,410.16 254.37,410.17 254.71,409.88 255.05,409.54 255.40,409.10 255.74,409.53 256.08,409.75 256.42,409.86 256.76,410.42 257.11,410.24 257.45,409.88 257.79,409.67 258.13,409.12 258.47,408.99 258.82,409.28 259.16,409.30 259.50,409.55" fill="none" stroke="#515151" stroke-width="1.1" stroke-linejoin="round"/>
<polyline points="71.40,417.00 71.74,415.01 72.08,413.87 72.43,413.48 72.77,413.86 73.11,414.07 73.45,414.42 73.79,414.70 74.14,414.21 74.48,414.05 74.82,413.64 75.16,413.96 75.50,414.09 75.85,414.22 76.19,413.94 76.53,413.35 76.87,413.17 77.21,412.97 77.56,413.18 77.90,413.20 78.24,413.43 78.58,413.50 78.92,413.63 79.27,413.86 79.61,413.89 79.95,413.84 80.29,413.95 80.63,413.67 80.98,413.85 81.32,413.62 81.66,413.59 82.00,413.84 82.34,413.79 82.69,413.97 83.03,413.89 83.37,413.73 83.71,413.56 84.05,413.51 84.40,413.09 84.74,413.04 85.08,413.04 85.42,412.86 85.76,413.23 86.11,413.18 86.45,412.94 86.79,413.19 87.13,413.54 87.47,413.72 87.82,413.72 88.16,413.71 88.50,413.23 88.84,412.96 89.18,413.17 89.53,412.84 89.87,412.60 90.21,412.57 90.55,412.23 90.89,412.25 91.24,412.12 91.58,412.28 91.92,412.51 92.26,412.60 92.60,413.22 92.95,413.55 93.29,413.72 93.63,413.76 93.97,413.48 94.31,413.47 94.66,413.66 95.00,413.79 95.34,413.92 95.68,413.62 96.02,413.11 96.37,412.80 96.71,412.71 97.05,412.57 97.39,412.92 97.73,413.39 98.08,413.38 98.42,413.36 98.76,413.00 99.10,412.65 99.44,412.53 99.79,412.50 100.13,412.98 100.47,413.24 100.81,413.30 101.15,413.34 101.50,413.29 101.84,412.90 102.18,413.08 102.52,413.24 102.86,412.88 103.21,412.96 103.55,413.15 103.89,412.90 104.23,412.94 104.57,413.23 104.92,413.00 105.26,413.62 105.60,413.76 105.94,413.57 106.28,413.65 106.63,413.28 106.97,413.17 107.31,413.19 107.65,412.85 107.99,412.78 108.34,412.80 108.68,412.70 109.02,412.48 109.36,412.54 109.70,412.38 110.05,412.80 110.39,412.93 110.73,412.73 111.07,412.56 111.41,412.26 111.76,412.72 112.10,412.67 112.44,412.78 112.78,412.93 113.12,413.01 113.47,413.09 113.81,413.27 114.15,412.58 114.49,412.40 114.83,412.59 115.18,412.57 115.52,413.41 115.86,413.46 116.20,413.03 116.54,413.02 116.89,412.81 117.23,412.88 117.57,413.09 117.91,412.92 118.25,412.75 118.60,412.57 118.94,412.62 119.28,412.67 119.62,412.85 119.96,412.64 120.31,413.12 120.65,413.44 120.99,413.36 121.33,413.50 121.67,413.31 122.02,412.98 122.36,412.71 122.70,412.60 123.04,412.32 123.38,412.21 123.73,412.34 124.07,412.65 124.41,412.73 124.75,412.63 125.09,412.93 125.44,412.69 125.78,412.72 126.12,413.14 126.46,413.11 126.80,413.10 127.15,412.96 127.49,412.71 127.83,412.79 128.17,412.86 128.51,412.85 128.86,412.72 129.20,412.30 129.54,412.07 129.88,411.92 130.22,411.93 130.57,412.22 130.91,412.37 131.25,412.72 131.59,413.35 131.93,413.51 132.28,413.10 132.62,413.18 132.96,413.14 133.30,412.92 133.64,413.02 133.99,412.80 134.33,412.27 134.67,412.20 135.01,412.51 135.35,412.25 135.70,412.16 136.04,412.12 136.38,411.92 136.72,411.95 137.06,412.14 137.41,412.06 137.75,412.18 138.09,412.51 138.43,412.23 138.77,412.31 139.12,412.47 139.46,412.66 139.80,413.13 140.14,412.79 140.48,412.88 140.83,412.45 141.17,412.26 141.51,412.45 141.85,412.09 142.19,412.31 142.54,412.28 142.88,412.35 143.22,412.43 143.56,412.27 143.90,412.25 144.25,412.13 144.59,411.88 144.93,411.75 145.27,411.81 145.61,411.84 145.96,412.07 146.30,412.07 146.64,411.53 146.98,411.63 147.32,411.63 147.67,411.87 148.01,412.27 148.35,412.32 148.69,411.98 149.03,411.73 149.38,411.76 149.72,411.25 150.06,411.80 150.40,411.67 150.74,411.33 151.09,411.58 151.43,411.35 151.77,411.69 152.11,411.75 152.45,411.73 152.80,409.55 153.14,409.57 153.48,407.24 153.82,408.98 154.16,409.42 154.51,409.54 154.85,409.63 155.19,409.59 155.53,409.27 155.87,409.24 156.22,409.51 156.56,409.74 156.90,410.23 157.24,410.15 157.58,409.47 157.93,409.40 158.27,408.85 158.61,408.72 158.95,408.95 159.29,409.22 159.64,409.61 159.98,410.21 160.32,410.15 160.66,409.97 161.00,409.75 161.35,409.43 161.69,410.05 162.03,409.97 162.37,410.09 162.71,409.85 163.06,409.68 163.40,410.02 163.74,410.23 164.08,410.79 164.42,410.90 164.77,410.97 165.11,410.50 165.45,410.45 165.79,410.41 166.13,410.32 166.48,410.87 166.82,410.52 167.16,410.16 167.50,409.95 167.84,409.97 168.19,410.22 168.53,410.56 168.87,411.04 169.21,410.67 169.55,410.82 169.90,410.52 170.24,410.31 170.58,410.76 170.92,410.72 171.26,411.22 171.61,411.19 171.95,411.12 172.29,410.95 172.63,410.60 172.97,410.41 173.32,410.45 173.66,410.63 174.00,411.14 174.34,411.46 174.68,411.23 175.03,411.23 175.37,410.70 175.71,410.66 176.05,411.11 176.39,410.75 176.74,410.86 177.08,410.54 177.42,410.32 177.76,410.80 178.10,411.33 178.45,411.62 178.79,412.06 179.13,412.45 179.47,411.78 179.81,411.67 180.16,411.25 180.50,410.82 180.84,411.09 181.18,411.17 181.52,411.28 181.87,411.29 182.21,411.15 182.55,411.74 182.89,411.61 183.23,411.76 183.58,411.76 183.92,411.06 184.26,411.42 184.60,411.15 184.94,411.18 185.29,411.57 185.63,411.53 185.97,411.69 186.31,412.30 186.65,412.27 187.00,412.15 187.34,412.28 187.68,412.17 188.02,412.17 188.36,411.93 188.71,411.59 189.05,411.31 189.39,411.41 189.73,411.72 190.07,412.00 190.42,412.12 190.76,412.04 191.10,411.93 191.44,411.76 191.78,412.12 192.13,411.87 192.47,411.98 192.81,411.95 193.15,411.49 193.49,411.61 193.84,411.32 194.18,412.15 194.52,411.84 194.86,411.90 195.20,412.60 195.55,412.55 195.89,412.81 196.23,413.07 196.57,412.52 196.91,411.96 197.26,412.06 197.60,411.67 197.94,411.84 198.28,411.75 198.62,411.57 198.97,411.71 199.31,411.61 199.65,411.61 199.99,412.05 200.33,412.18 200.68,412.37 201.02,412.61 201.36,412.67 201.70,412.74 202.04,412.66 202.39,412.55 202.73,411.95 203.07,411.97 203.41,412.13 203.75,412.29 204.10,412.66 204.44,412.67 204.78,412.96 205.12,412.79 205.46,412.54 205.81,412.21 206.15,412.07 206.49,412.18 206.83,412.02 207.17,412.28 207.52,412.00 207.86,412.00 208.20,412.18 208.54,411.97 208.88,411.59 209.23,411.47 209.57,411.59 209.91,412.03 210.25,412.58 210.59,412.83 210.94,412.99 211.28,413.02 211.62,412.70 211.96,412.78 212.30,412.67 212.65,412.67 212.99,412.85 213.33,412.33 213.67,412.55 214.01,412.24 214.36,412.33 214.70,412.61 215.04,412.37 215.38,412.58 215.72,412.61 216.07,412.79 216.41,413.05 216.75,413.17 217.09,412.95 217.43,412.99 217.78,412.71 218.12,412.36 218.46,412.76 218.80,412.41 219.14,412.72 219.49,412.72 219.83,412.24 220.17,412.60 220.51,412.62 220.85,412.94 221.20,412.78 221.54,412.72 221.88,412.80 222.22,412.46 222.56,412.95 222.91,412.90 223.25,412.85 223.59,413.46 223.93,413.58 224.27,413.79 224.62,413.92 224.96,413.70 225.30,413.76 225.64,413.40 225.98,412.95 226.33,412.64 226.67,412.56 227.01,412.98 227.35,413.07 227.69,413.09 228.04,412.79 228.38,412.56 228.72,412.65 229.06,412.69 229.40,413.07 229.75,413.23 230.09,413.09 230.43,413.41 230.77,413.25 231.11,412.94 231.46,413.03 231.80,412.70 232.14,412.91 232.48,413.10 232.82,413.20 233.17,413.17 233.51,412.88 233.85,412.85 234.19,412.43 234.53,412.45 234.88,412.59 235.22,412.72 235.56,413.11 235.90,413.34 236.24,412.96 236.59,412.73 236.93,412.79 237.27,412.82 237.61,413.36 237.95,413.53 238.30,413.21 238.64,412.92 238.98,412.73 239.32,412.65 239.66,413.28 240.01,413.31 240.35,413.34 240.69,413.11 241.03,412.78 241.37,413.03 241.72,412.95 242.06,413.35 242.40,413.05 242.74,412.91 243.08,412.88 243.43,412.69 243.77,413.03 244.11,413.00 244.45,413.04 244.79,412.76 245.14,412.69 245.48,412.71 245.82,412.84 246.16,413.26 246.50,413.34 246.85,413.16 247.19,413.05 247.53,412.79 247.87,412.78 248.21,413.11 248.56,413.51 248.90,413.54 249.24,413.08 249.58,413.06 249.92,412.40 250.27,412.40 250.61,412.94 250.95,412.75 251.29,413.22 251.63,413.45 251.98,413.07 252.32,413.20 252.66,413.25 253.00,412.92 253.34,413.38 253.69,413.45 254.03,413.29 254.37,413.60 254.71,413.56 255.05,413.85 255.40,413.42 255.74,413.58 256.08,413.59 256.42,413.75 256.76,414.10 257.11,413.67 257.45,413.22 257.79,412.20 258.13,411.92 258.47,412.10 258.82,412.37 259.16,412.63 259.50,412.95" fill="none" stroke="#F14040" stroke-width="1.1" stroke-linejoin="round"/>
<polyline points="71.40,417.00 71.74,415.82 72.08,415.07 72.43,415.11 72.77,414.44 73.11,414.24 73.45,414.20 73.79,414.50 74.14,414.42 74.48,414.64 74.82,414.67 75.16,414.59 75.50,414.53 75.85,414.45 76.19,414.45 76.53,414.44 76.87,414.87 77.21,414.67 77.56,414.59 77.90,414.26 78.24,413.84 78.58,413.77 78.92,413.43 79.27,413.59 79.61,413.38 79.95,413.89 80.29,413.92 80.63,414.23 80.98,414.42 81.32,414.05 81.66,414.22 82.00,414.01 82.34,414.20 82.69,414.45 83.03,414.29 83.37,414.05 83.71,413.94 84.05,414.10 84.40,414.16 84.74,414.57 85.08,414.61 85.42,414.52 85.76,414.50 86.11,414.19 86.45,414.00 86.79,413.81 87.13,414.06 87.47,414.00 87.82,413.83 88.16,413.88 88.50,413.64 88.84,413.75 89.18,413.81 89.53,413.68 89.87,413.63 90.21,413.54 90.55,413.43 90.89,413.61 91.24,413.82 91.58,413.98 91.92,414.16 92.26,414.20 92.60,414.25 92.95,414.01 93.29,413.90 93.63,413.68 93.97,414.04 94.31,414.34 94.66,414.73 95.00,415.05 95.34,414.63 95.68,414.12 96.02,413.98 96.37,413.89 96.71,413.68 97.05,413.99 97.39,413.91 97.73,413.89 98.08,414.01 98.42,413.94 98.76,414.30 99.10,414.46 99.44,414.26 99.79,414.18 100.13,413.92 100.47,413.80 100.81,414.03 101.15,414.39 101.50,414.35 101.84,413.86 102.18,413.80 102.52,413.37 102.86,413.34 103.21,413.57 103.55,413.33 103.89,413.78 104.23,413.80 104.57,413.89 104.92,414.08 105.26,413.55 105.60,413.36 105.94,413.60 106.28,413.69 106.63,414.13 106.97,414.41 107.31,413.77 107.65,413.91 107.99,413.70 108.34,413.66 108.68,413.86 109.02,413.60 109.36,413.62 109.70,413.49 110.05,413.44 110.39,413.67 110.73,413.82 111.07,414.00 111.41,413.96 111.76,413.84 112.10,413.89 112.44,413.76 112.78,413.54 113.12,413.50 113.47,413.16 113.81,412.99 114.15,413.44 114.49,413.54 114.83,413.75 115.18,413.90 115.52,414.29 115.86,413.69 116.20,413.46 116.54,413.37 116.89,413.00 117.23,413.61 117.57,413.60 117.91,413.65 118.25,413.52 118.60,413.63 118.94,413.73 119.28,413.33 119.62,413.46 119.96,413.06 120.31,413.12 120.65,413.28 120.99,413.03 121.33,413.16 121.67,413.26 122.02,413.40 122.36,413.59 122.70,413.70 123.04,413.52 123.38,413.49 123.73,413.65 124.07,413.56 124.41,413.11 124.75,413.03 125.09,412.85 125.44,412.37 125.78,412.98 126.12,413.57 126.46,413.93 126.80,414.66 127.15,414.53 127.49,413.90 127.83,413.94 128.17,413.46 128.51,413.73 128.86,413.86 129.20,413.38 129.54,413.50 129.88,413.27 130.22,413.28 130.57,413.57 130.91,413.59 131.25,413.42 131.59,413.28 131.93,412.59 132.28,412.45 132.62,412.49 132.96,412.35 133.30,412.78 133.64,413.21 133.99,413.74 134.33,413.81 134.67,413.75 135.01,413.36 135.35,413.01 135.70,413.18 136.04,412.94 136.38,413.03 136.72,413.17 137.06,413.31 137.41,413.39 137.75,413.65 138.09,413.91 138.43,414.25 138.77,414.74 139.12,414.40 139.46,413.91 139.80,413.63 140.14,413.62 140.48,413.78 140.83,413.83 141.17,413.79 141.51,413.60 141.85,413.72 142.19,413.36 142.54,413.68 142.88,413.62 143.22,413.66 143.56,413.86 143.90,413.47 144.25,413.43 144.59,413.15 144.93,413.23 145.27,413.01 145.61,413.33 145.96,413.25 146.30,413.33 146.64,413.44 146.98,412.90 147.32,412.87 147.67,412.47 148.01,412.95 148.35,413.40 148.69,413.43 149.03,413.99 149.38,413.62 149.72,413.14 150.06,413.15 150.40,413.12 150.74,413.01 151.09,413.20 151.43,413.34 151.77,413.32 152.11,413.34 152.45,413.46 152.80,413.45 153.14,407.58 153.48,407.56 153.82,401.54 154.16,410.73 154.51,412.37 154.85,412.70 155.19,412.73 155.53,412.44 155.87,412.61 156.22,412.74 156.56,412.72 156.90,412.87 157.24,412.62 157.58,413.00 157.93,413.08 158.27,413.44 158.61,413.75 158.95,413.28 159.29,413.24 159.64,412.71 159.98,412.57 160.32,413.12 160.66,413.34 161.00,413.24 161.35,413.02 161.69,412.52 162.03,412.61 162.37,412.50 162.71,413.17 163.06,413.15 163.40,412.88 163.74,413.24 164.08,413.08 164.42,413.22 164.77,413.03 165.11,413.17 165.45,413.22 165.79,413.15 166.13,413.34 166.48,413.29 166.82,413.19 167.16,413.09 167.50,413.14 167.84,413.34 168.19,413.16 168.53,413.27 168.87,413.23 169.21,413.33 169.55,413.52 169.90,413.44 170.24,413.30 170.58,412.93 170.92,412.77 171.26,412.72 171.61,412.72 171.95,412.46 172.29,412.41 172.63,412.65 172.97,412.74 173.32,413.42 173.66,413.50 174.00,413.48 174.34,413.57 174.68,413.14 175.03,413.14 175.37,413.33 175.71,413.39 176.05,413.63 176.39,413.65 176.74,413.33 177.08,413.44 177.42,413.17 177.76,412.94 178.10,413.06 178.45,412.76 178.79,413.16 179.13,413.50 179.47,413.28 179.81,413.74 180.16,413.57 180.50,413.64 180.84,413.62 181.18,413.09 181.52,413.12 181.87,412.94 182.21,413.63 182.55,413.69 182.89,413.52 183.23,413.31 183.58,413.27 183.92,413.37 184.26,413.51 184.60,414.22 184.94,413.92 185.29,414.01 185.63,413.81 185.97,413.30 186.31,413.28 186.65,413.19 187.00,413.36 187.34,413.52 187.68,413.62 188.02,413.68 188.36,413.63 188.71,413.19 189.05,413.09 189.39,412.83 189.73,412.81 190.07,412.93 190.42,413.02 190.76,413.47 191.10,413.60 191.44,413.66 191.78,413.47 192.13,413.18 192.47,413.07 192.81,413.05 193.15,413.05 193.49,413.29 193.84,413.26 194.18,413.43 194.52,413.16 194.86,413.10 195.20,413.18 195.55,413.26 195.89,413.37 196.23,413.19 196.57,413.09 196.91,413.27 197.26,413.76 197.60,413.88 197.94,413.87 198.28,413.38 198.62,413.44 198.97,413.52 199.31,413.96 199.65,414.41 199.99,414.13 200.33,413.93 200.68,413.73 201.02,413.69 201.36,413.71 201.70,413.66 202.04,413.14 202.39,413.29 202.73,413.29 203.07,413.60 203.41,413.83 203.75,413.48 204.10,413.16 204.44,413.27 204.78,413.48 205.12,413.65 205.46,414.13 205.81,413.98 206.15,414.20 206.49,413.73 206.83,413.46 207.17,413.62 207.52,413.52 207.86,413.61 208.20,413.78 208.54,413.47 208.88,413.26 209.23,413.38 209.57,413.19 209.91,413.36 210.25,413.57 210.59,414.10 210.94,414.23 211.28,414.17 211.62,414.13 211.96,413.84 212.30,414.06 212.65,413.69 212.99,413.73 213.33,413.89 213.67,413.78 214.01,414.21 214.36,413.99 214.70,414.25 215.04,414.05 215.38,414.14 215.72,414.31 216.07,413.69 216.41,413.65 216.75,413.67 217.09,413.66 217.43,413.51 217.78,413.41 218.12,413.13 218.46,413.12 218.80,413.29 219.14,413.46 219.49,413.73 219.83,413.91 220.17,414.00 220.51,414.00 220.85,413.69 221.20,413.60 221.54,413.45 221.88,413.59 222.22,413.58 222.56,413.40 222.91,413.77 223.25,413.88 223.59,414.13 223.93,414.28 224.27,414.01 224.62,413.97 224.96,414.22 225.30,414.18 225.64,414.01 225.98,413.59 226.33,413.44 226.67,413.49 227.01,413.79 227.35,414.21 227.69,414.14 228.04,414.15 228.38,414.40 228.72,414.40 229.06,414.45 229.40,414.36 229.75,414.39 230.09,414.26 230.43,414.35 230.77,414.55 231.11,414.54 231.46,413.84 231.80,413.44 232.14,413.05 232.48,412.71 232.82,413.48 233.17,413.70 233.51,413.90 233.85,413.97 234.19,413.82 234.53,413.56 234.88,414.15 235.22,414.34 235.56,414.33 235.90,414.67 236.24,414.17 236.59,413.81 236.93,413.90 237.27,413.51 237.61,413.50 237.95,413.73 238.30,413.96 238.64,414.65 238.98,414.72 239.32,414.76 239.66,414.63 240.01,414.52 240.35,414.33 240.69,414.33 241.03,414.27 241.37,414.17 241.72,414.00 242.06,413.75 242.40,413.70 242.74,413.58 243.08,413.84 243.43,413.80 243.77,413.35 244.11,413.33 244.45,413.46 244.79,414.10 245.14,414.11 245.48,414.31 245.82,414.08 246.16,413.67 246.50,413.94 246.85,413.90 247.19,414.35 247.53,414.42 247.87,414.59 248.21,414.23 248.56,414.25 248.90,414.36 249.24,414.48 249.58,414.94 249.92,414.67 250.27,414.45 250.61,414.41 250.95,414.43 251.29,414.34 251.63,414.33 251.98,414.23 252.32,413.83 252.66,414.20 253.00,414.27 253.34,414.27 253.69,414.48 254.03,414.20 254.37,414.42 254.71,414.31 255.05,414.30 255.40,414.46 255.74,414.29 256.08,414.50 256.42,414.33 256.76,414.31 257.11,414.47 257.45,414.43 257.79,414.15 258.13,413.92 258.47,414.04 258.82,414.09 259.16,414.64 259.50,414.72" fill="none" stroke="#1A6FDF" stroke-width="1.1" stroke-linejoin="round"/>
<polyline points="71.40,417.00 71.74,414.77 72.08,413.84 72.43,414.02 72.77,413.69 73.11,413.48 73.45,412.98 73.79,412.83 74.14,413.27 74.48,412.94 74.82,413.26 75.16,413.47 75.50,412.96 75.85,413.50 76.19,413.42 76.53,413.63 76.87,414.07 77.21,414.44 77.56,414.60 77.90,414.27 78.24,414.33 78.58,414.05 78.92,413.92 79.27,414.17 79.61,414.21 79.95,414.11 80.29,414.48 80.63,414.48 80.98,414.65 81.32,414.64 81.66,414.41 82.00,414.70 82.34,414.63 82.69,414.95 83.03,414.81 83.37,414.68 83.71,414.55 84.05,414.59 84.40,414.52 84.74,414.59 85.08,414.53 85.42,414.23 85.76,414.69 86.11,414.61 86.45,414.94 86.79,415.04 87.13,414.64 87.47,414.59 87.82,414.34 88.16,414.62 88.50,414.83 88.84,414.90 89.18,414.91 89.53,414.82 89.87,414.77 90.21,414.77 90.55,415.20 90.89,415.28 91.24,415.30 91.58,415.57 91.92,415.52 92.26,415.20 92.60,415.23 92.95,415.07 93.29,414.85 93.63,415.07 93.97,415.20 94.31,415.24 94.66,415.19 95.00,414.91 95.34,414.90 95.68,414.83 96.02,414.93 96.37,415.36 96.71,415.24 97.05,415.08 97.39,415.19 97.73,414.84 98.08,414.98 98.42,414.93 98.76,414.59 99.10,414.79 99.44,415.03 99.79,415.27 100.13,415.70 100.47,415.86 100.81,415.57 101.15,415.29 101.50,415.07 101.84,414.89 102.18,415.16 102.52,415.48 102.86,415.69 103.21,415.57 103.55,415.35 103.89,415.26 104.23,415.03 104.57,415.15 104.92,414.91 105.26,414.82 105.60,414.87 105.94,414.81 106.28,414.88 106.63,414.73 106.97,414.66 107.31,414.44 107.65,414.63 107.99,414.89 108.34,415.16 108.68,415.26 109.02,415.33 109.36,415.46 109.70,415.08 110.05,415.30 110.39,415.25 110.73,414.93 111.07,415.10 111.41,414.86 111.76,414.80 112.10,414.83 112.44,414.62 112.78,414.76 113.12,414.40 113.47,414.58 113.81,414.79 114.15,414.79 114.49,414.92 114.83,414.90 115.18,414.94 115.52,414.91 115.86,414.87 116.20,414.89 116.54,415.02 116.89,415.09 117.23,415.19 117.57,415.21 117.91,414.97 118.25,415.26 118.60,415.36 118.94,415.25 119.28,415.16 119.62,414.80 119.96,414.68 120.31,414.86 120.65,414.85 120.99,415.17 121.33,415.39 121.67,415.05 122.02,415.01 122.36,415.04 122.70,414.85 123.04,415.10 123.38,415.36 123.73,415.02 124.07,415.09 124.41,414.79 124.75,414.90 125.09,415.00 125.44,415.04 125.78,415.57 126.12,415.14 126.46,414.78 126.80,414.85 127.15,414.49 127.49,414.72 127.83,414.96 128.17,414.97 128.51,414.89 128.86,415.03 129.20,414.85 129.54,414.68 129.88,414.41 130.22,414.49 130.57,414.73 130.91,414.99 131.25,415.41 131.59,415.06 131.93,415.20 132.28,415.22 132.62,415.47 132.96,415.51 133.30,415.14 133.64,414.71 133.99,414.41 134.33,414.60 134.67,414.87 135.01,415.31 135.35,415.57 135.70,415.23 136.04,415.21 136.38,414.91 136.72,414.69 137.06,414.64 137.41,414.35 137.75,414.53 138.09,414.54 138.43,414.86 138.77,414.88 139.12,414.54 139.46,414.52 139.80,414.03 140.14,414.23 140.48,414.63 140.83,414.91 141.17,415.31 141.51,415.26 141.85,415.15 142.19,414.75 142.54,414.52 142.88,414.58 143.22,414.34 143.56,414.12 143.90,414.22 144.25,414.30 144.59,414.36 144.93,414.54 145.27,414.27 145.61,414.24 145.96,414.56 146.30,414.59 146.64,414.88 146.98,414.87 147.32,414.51 147.67,414.50 148.01,414.35 148.35,414.41 148.69,414.61 149.03,414.66 149.38,414.94 149.72,414.58 150.06,414.36 150.40,414.36 150.74,414.01 151.09,414.13 151.43,414.05 151.77,414.35 152.11,414.43 152.45,408.62 152.80,408.67 153.14,402.92 153.48,410.26 153.82,412.91 154.16,413.88 154.51,414.24 154.85,414.24 155.19,414.34 155.53,414.21 155.87,413.94 156.22,414.13 156.56,414.10 156.90,414.21 157.24,414.36 157.58,414.39 157.93,414.19 158.27,414.13 158.61,414.01 158.95,413.88 159.29,413.84 159.64,413.76 159.98,414.01 160.32,414.22 160.66,414.54 161.00,414.53 161.35,414.35 161.69,414.62 162.03,414.60 162.37,414.78 162.71,414.78 163.06,414.73 163.40,414.60 163.74,414.64 164.08,414.75 164.42,414.69 164.77,414.60 165.11,414.34 165.45,414.15 165.79,414.21 166.13,413.99 166.48,414.02 166.82,414.17 167.16,413.91 167.50,414.26 167.84,414.59 168.19,414.66 168.53,414.57 168.87,414.46 169.21,414.29 169.55,414.16 169.90,414.50 170.24,414.44 170.58,414.39 170.92,414.08 171.26,414.15 171.61,413.99 171.95,413.99 172.29,414.60 172.63,414.30 172.97,414.29 173.32,414.23 173.66,413.91 174.00,414.04 174.34,414.64 174.68,414.77 175.03,414.78 175.37,414.97 175.71,414.61 176.05,414.78 176.39,414.44 176.74,414.50 177.08,414.68 177.42,414.94 177.76,415.38 178.10,415.17 178.45,415.03 178.79,414.79 179.13,414.59 179.47,414.58 179.81,414.39 180.16,414.31 180.50,414.75 180.84,414.82 181.18,415.19 181.52,415.04 181.87,414.85 182.21,414.88 182.55,414.72 182.89,415.11 183.23,415.08 183.58,414.91 183.92,415.00 184.26,414.79 184.60,414.70 184.94,414.96 185.29,414.92 185.63,414.83 185.97,414.93 186.31,414.81 186.65,414.79 187.00,415.04 187.34,415.20 187.68,414.89 188.02,414.64 188.36,414.49 188.71,414.13 189.05,414.28 189.39,414.35 189.73,414.40 190.07,414.79 190.42,415.18 190.76,415.38 191.10,415.11 191.44,414.62 191.78,414.45 192.13,414.47 192.47,414.50 192.81,414.42 193.15,414.54 193.49,414.41 193.84,414.59 194.18,414.98 194.52,414.88 194.86,415.02 195.20,415.05 195.55,415.25 195.89,415.20 196.23,415.02 196.57,414.90 196.91,414.52 197.26,414.47 197.60,414.57 197.94,414.38 198.28,414.54 198.62,414.57 198.97,414.40 199.31,414.72 199.65,414.90 199.99,415.02 200.33,415.30 200.68,415.34 201.02,415.20 201.36,414.95 201.70,414.77 202.04,414.67 202.39,414.66 202.73,414.66 203.07,414.61 203.41,414.34 203.75,414.37 204.10,414.56 204.44,414.50 204.78,415.04 205.12,414.90 205.46,414.85 205.81,415.07 206.15,415.05 206.49,415.09 206.83,415.37 207.17,415.18 207.52,415.11 207.86,415.10 208.20,414.86 208.54,415.03 208.88,414.93 209.23,414.89 209.57,414.95 209.91,414.98 210.25,415.19 210.59,415.43 210.94,415.52 211.28,415.69 211.62,415.74 211.96,415.67 212.30,415.43 212.65,415.20 212.99,415.05 213.33,414.90 213.67,414.95 214.01,414.58 214.36,414.77 214.70,414.79 215.04,415.06 215.38,415.30 215.72,415.07 216.07,415.04 216.41,414.80 216.75,414.89 217.09,415.33 217.43,415.60 217.78,415.62 218.12,415.95 218.46,415.39 218.80,415.00 219.14,415.23 219.49,415.08 219.83,415.07 220.17,414.98 220.51,414.61 220.85,414.42 221.20,414.67 221.54,414.96 221.88,415.11 222.22,415.33 222.56,415.12 222.91,415.18 223.25,415.28 223.59,414.83 223.93,414.93 224.27,414.58 224.62,414.57 224.96,414.93 225.30,415.11 225.64,415.51 225.98,415.20 226.33,415.19 226.67,415.31 227.01,414.99 227.35,415.40 227.69,415.47 228.04,415.16 228.38,415.70 228.72,415.31 229.06,415.03 229.40,415.08 229.75,414.72 230.09,415.03 230.43,415.34 230.77,415.32 231.11,415.62 231.46,415.64 231.80,415.64 232.14,415.29 232.48,415.30 232.82,415.03 233.17,414.82 233.51,415.11 233.85,414.97 234.19,414.89 234.53,414.77 234.88,414.80 235.22,414.74 235.56,415.00 235.90,414.95 236.24,415.09 236.59,415.05 236.93,414.89 237.27,415.42 237.61,415.29 237.95,415.12 238.30,415.38 238.64,415.17 238.98,415.42 239.32,415.54 239.66,415.66 240.01,415.71 240.35,415.40 240.69,415.56 241.03,415.23 241.37,415.05 241.72,415.02 242.06,414.77 242.40,414.95 242.74,415.42 243.08,415.36 243.43,415.39 243.77,415.45 244.11,415.23 244.45,415.19 244.79,415.39 245.14,415.38 245.48,415.32 245.82,415.13 246.16,415.17 246.50,415.54 246.85,415.49 247.19,416.05 247.53,416.23 247.87,415.79 248.21,415.87 248.56,415.57 248.90,415.35 249.24,415.18 249.58,414.94 249.92,415.08 250.27,414.90 250.61,414.80 250.95,414.86 251.29,415.10 251.63,415.21 251.98,415.47 252.32,415.39 252.66,415.17 253.00,415.00 253.34,415.06 253.69,415.26 254.03,415.28 254.37,415.46 254.71,415.47 255.05,415.42 255.40,415.51 255.74,415.68 256.08,415.68 256.42,415.71 256.76,415.66 257.11,415.42 257.45,415.36 257.79,415.11 258.13,415.28 258.47,415.03 258.82,415.47 259.16,416.04 259.50,415.78" fill="none" stroke="#37AD6B" stroke-width="1.1" stroke-linejoin="round"/>
<polyline points="71.40,417.00 71.74,416.64 72.08,416.34 72.43,416.08 72.77,415.85 73.11,416.08 73.45,415.88 73.79,416.02 74.14,415.85 74.48,415.56 74.82,415.76 75.16,415.65 75.50,415.89 75.85,415.94 76.19,415.68 76.53,415.64 76.87,415.44 77.21,415.40 77.56,415.60 77.90,415.87 78.24,416.29 78.58,416.34 78.92,416.22 79.27,415.83 79.61,415.70 79.95,415.72 80.29,415.91 80.63,416.15 80.98,416.37 81.32,416.28 81.66,416.26 82.00,416.21 82.34,415.85 82.69,415.90 83.03,415.98 83.37,415.76 83.71,415.72 84.05,415.70 84.40,415.61 84.74,416.01 85.08,416.33 85.42,416.42 85.76,416.31 86.11,416.18 86.45,415.73 86.79,415.66 87.13,415.54 87.47,415.33 87.82,415.71 88.16,415.61 88.50,415.68 88.84,415.97 89.18,415.73 89.53,415.71 89.87,415.64 90.21,415.33 90.55,415.61 90.89,415.78 91.24,415.98 91.58,416.11 91.92,415.91 92.26,415.73 92.60,415.55 92.95,415.67 93.29,415.56 93.63,415.49 93.97,415.55 94.31,415.64 94.66,415.84 95.00,416.07 95.34,416.32 95.68,416.14 96.02,416.22 96.37,416.09 96.71,415.79 97.05,415.78 97.39,415.77 97.73,415.84 98.08,416.01 98.42,416.09 98.76,415.77 99.10,415.91 99.44,416.01 99.79,415.81 100.13,415.72 100.47,415.41 100.81,415.12 101.15,414.95 101.50,415.23 101.84,415.15 102.18,414.97 102.52,415.29 102.86,415.19 103.21,415.64 103.55,416.05 103.89,415.93 104.23,416.14 104.57,415.94 104.92,415.74 105.26,415.80 105.60,415.51 105.94,415.28 106.28,415.32 106.63,415.20 106.97,415.13 107.31,415.44 107.65,415.55 107.99,416.00 108.34,416.14 108.68,415.94 109.02,415.79 109.36,415.19 109.70,415.05 110.05,415.08 110.39,415.14 110.73,415.53 111.07,415.71 111.41,415.75 111.76,415.76 112.10,415.68 112.44,415.74 112.78,415.72 113.12,415.93 113.47,415.93 113.81,415.87 114.15,415.87 114.49,415.55 114.83,415.54 115.18,415.62 115.52,415.87 115.86,415.81 116.20,415.70 116.54,415.59 116.89,415.54 117.23,415.84 117.57,415.76 117.91,415.79 118.25,415.63 118.60,415.24 118.94,415.60 119.28,415.70 119.62,415.71 119.96,415.86 120.31,415.80 120.65,415.71 120.99,415.83 121.33,415.99 121.67,415.80 122.02,415.77 122.36,415.53 122.70,415.37 123.04,415.23 123.38,415.36 123.73,415.46 124.07,415.73 124.41,416.15 124.75,416.22 125.09,416.18 125.44,415.97 125.78,415.97 126.12,415.61 126.46,415.58 126.80,415.63 127.15,415.45 127.49,415.62 127.83,415.91 128.17,415.58 128.51,415.61 128.86,415.63 129.20,415.51 129.54,415.91 129.88,415.97 130.22,415.90 130.57,416.02 130.91,416.07 131.25,416.06 131.59,415.99 131.93,415.96 132.28,415.96 132.62,415.81 132.96,416.06 133.30,415.97 133.64,415.73 133.99,415.71 134.33,415.56 134.67,415.32 135.01,415.49 135.35,415.62 135.70,415.86 136.04,416.06 136.38,415.92 136.72,415.93 137.06,415.45 137.41,415.32 137.75,415.28 138.09,415.35 138.43,415.56 138.77,415.64 139.12,416.03 139.46,415.88 139.80,415.95 140.14,416.23 140.48,415.89 140.83,415.62 141.17,415.49 141.51,415.37 141.85,415.47 142.19,415.59 142.54,415.80 142.88,415.64 143.22,415.60 143.56,415.73 143.90,415.40 144.25,415.64 144.59,415.49 144.93,415.48 145.27,415.71 145.61,415.73 145.96,415.84 146.30,415.93 146.64,416.31 146.98,416.27 147.32,416.47 147.67,416.55 148.01,416.24 148.35,416.17 148.69,415.81 149.03,415.53 149.38,415.46 149.72,415.17 150.06,415.09 150.40,415.17 150.74,415.33 151.09,415.47 151.43,415.56 151.77,415.71 152.11,415.65 152.45,415.63 152.80,414.65 153.14,414.58 153.48,413.58 153.82,415.04 154.16,415.51 154.51,415.62 154.85,415.64 155.19,415.65 155.53,415.59 155.87,415.56 156.22,415.55 156.56,415.58 156.90,415.71 157.24,415.86 157.58,415.89 157.93,415.66 158.27,415.34 158.61,415.56 158.95,415.66 159.29,415.84 159.64,416.05 159.98,415.50 160.32,415.50 160.66,415.42 161.00,415.37 161.35,415.62 161.69,415.47 162.03,415.54 162.37,415.51 162.71,415.66 163.06,415.95 163.40,415.94 163.74,415.89 164.08,415.83 164.42,415.73 164.77,415.95 165.11,415.95 165.45,415.94 165.79,415.70 166.13,415.54 166.48,415.77 166.82,416.05 167.16,416.34 167.50,416.27 167.84,416.05 168.19,416.01 168.53,416.00 168.87,415.86 169.21,415.88 169.55,415.72 169.90,415.70 170.24,416.04 170.58,416.23 170.92,416.26 171.26,416.05 171.61,415.69 171.95,415.53 172.29,415.38 172.63,415.49 172.97,415.49 173.32,415.56 173.66,415.61 174.00,415.54 174.34,415.86 174.68,415.77 175.03,415.78 175.37,415.85 175.71,415.61 176.05,415.53 176.39,415.43 176.74,415.30 177.08,415.32 177.42,415.11 177.76,415.30 178.10,415.51 178.45,415.52 178.79,415.91 179.13,416.04 179.47,416.19 179.81,416.08 180.16,416.07 180.50,416.05 180.84,415.63 181.18,415.73 181.52,415.62 181.87,415.57 182.21,415.79 182.55,415.91 182.89,415.90 183.23,415.78 183.58,415.85 183.92,415.75 184.26,415.91 184.60,415.96 184.94,416.04 185.29,416.02 185.63,415.81 185.97,415.65 186.31,415.80 186.65,415.62 187.00,415.74 187.34,415.87 187.68,415.62 188.02,415.86 188.36,415.67 188.71,415.63 189.05,415.59 189.39,415.46 189.73,415.45 190.07,415.60 190.42,415.80 190.76,416.18 191.10,416.60 191.44,416.43 191.78,416.26 192.13,416.01 192.47,415.72 192.81,415.72 193.15,415.57 193.49,415.34 193.84,415.49 194.18,415.34 194.52,415.35 194.86,415.68 195.20,415.55 195.55,415.81 195.89,416.17 196.23,416.06 196.57,416.30 196.91,416.23 197.26,416.15 197.60,416.20 197.94,415.88 198.28,415.87 198.62,415.84 198.97,415.77 199.31,415.79 199.65,415.68 199.99,415.68 200.33,415.56 200.68,415.68 201.02,415.88 201.36,415.61 201.70,415.68 202.04,415.57 202.39,415.48 202.73,415.87 203.07,415.89 203.41,415.91 203.75,415.94 204.10,415.49 204.44,415.53 204.78,415.38 205.12,415.21 205.46,415.52 205.81,415.65 206.15,415.91 206.49,416.07 206.83,415.89 207.17,415.86 207.52,415.96 207.86,415.67 208.20,415.76 208.54,415.64 208.88,415.28 209.23,415.54 209.57,415.85 209.91,415.83 210.25,416.14 210.59,416.02 210.94,415.95 211.28,415.99 211.62,415.81 211.96,415.75 212.30,415.39 212.65,415.29 212.99,415.40 213.33,415.59 213.67,415.84 214.01,415.84 214.36,415.64 214.70,415.56 215.04,415.54 215.38,415.85 215.72,416.12 216.07,416.00 216.41,415.86 216.75,415.81 217.09,415.79 217.43,415.89 217.78,416.00 218.12,415.93 218.46,415.96 218.80,416.18 219.14,415.84 219.49,415.89 219.83,415.78 220.17,415.51 220.51,415.78 220.85,415.73 221.20,415.79 221.54,415.94 221.88,415.96 222.22,415.96 222.56,415.99 222.91,415.98 223.25,415.72 223.59,415.72 223.93,415.56 224.27,415.60 224.62,415.96 224.96,416.06 225.30,416.12 225.64,416.27 225.98,416.09 226.33,415.98 226.67,415.80 227.01,415.77 227.35,415.69 227.69,415.46 228.04,415.57 228.38,415.51 228.72,415.61 229.06,415.77 229.40,415.90 229.75,415.71 230.09,415.77 230.43,415.75 230.77,415.59 231.11,415.73 231.46,415.77 231.80,415.77 232.14,415.98 232.48,416.27 232.82,416.29 233.17,416.34 233.51,416.43 233.85,416.37 234.19,416.25 234.53,416.31 234.88,416.08 235.22,415.78 235.56,415.64 235.90,415.48 236.24,415.44 236.59,415.32 236.93,415.57 237.27,415.50 237.61,415.46 237.95,415.88 238.30,415.97 238.64,416.10 238.98,416.03 239.32,415.84 239.66,415.87 240.01,416.10 240.35,416.29 240.69,416.22 241.03,416.14 241.37,415.90 241.72,415.99 242.06,415.87 242.40,415.97 242.74,416.07 243.08,415.88 243.43,416.11 243.77,416.05 244.11,416.02 244.45,415.93 244.79,415.82 245.14,415.52 245.48,415.60 245.82,415.87 246.16,415.82 246.50,415.97 246.85,415.92 247.19,416.19 247.53,416.21 247.87,416.15 248.21,416.02 248.56,415.95 248.90,416.21 249.24,416.39 249.58,416.59 249.92,416.23 250.27,416.19 250.61,416.16 250.95,416.17 251.29,416.54 251.63,416.27 251.98,416.21 252.32,416.16 252.66,415.93 253.00,416.34 253.34,416.16 253.69,416.20 254.03,416.46 254.37,416.31 254.71,416.49 255.05,416.36 255.40,416.02 255.74,415.79 256.08,415.82 256.42,415.68 256.76,416.01 257.11,416.04 257.45,415.99 257.79,416.08 258.13,415.86 258.47,415.99 258.82,416.14 259.16,416.41 259.50,416.39" fill="none" stroke="#B177DE" stroke-width="1.1" stroke-linejoin="round"/>
</g>
<line x1="194.8" y1="259.20" x2="216.10000000000002" y2="259.20" stroke="#515151" stroke-width="1.2"/>
<text x="0" y="0" font-size="9" font-weight="bold" stroke="#000" stroke-width="0.22" transform="translate(218.8,262.30) scale(1,1.1)">300 nM</text>
<line x1="194.8" y1="271.00" x2="216.10000000000002" y2="271.00" stroke="#F14040" stroke-width="1.2"/>
<text x="0" y="0" font-size="9" font-weight="bold" stroke="#000" stroke-width="0.22" transform="translate(218.8,274.10) scale(1,1.1)">150 nM</text>
<line x1="194.8" y1="282.80" x2="216.10000000000002" y2="282.80" stroke="#1A6FDF" stroke-width="1.2"/>
<text x="0" y="0" font-size="9" font-weight="bold" stroke="#000" stroke-width="0.22" transform="translate(218.8,285.90) scale(1,1.1)">75 nM</text>
<line x1="194.8" y1="294.60" x2="216.10000000000002" y2="294.60" stroke="#37AD6B" stroke-width="1.2"/>
<text x="0" y="0" font-size="9" font-weight="bold" stroke="#000" stroke-width="0.22" transform="translate(218.8,297.70) scale(1,1.1)">37.5 nM</text>
<line x1="194.8" y1="306.40" x2="216.10000000000002" y2="306.40" stroke="#B177DE" stroke-width="1.2"/>
<text x="0" y="0" font-size="9" font-weight="bold" stroke="#000" stroke-width="0.22" transform="translate(218.8,309.50) scale(1,1.1)">18.75 nM</text>
<rect x="65.5" y="254.7" width="73.3" height="15.3" fill="#000"/>
<rect x="63.3" y="252.5" width="73.3" height="15.3" fill="#1EF07A" stroke="#000" stroke-width="1"/>
<text x="0" y="0" font-size="10.6" font-weight="bold" stroke="#000" stroke-width="0.22" transform="translate(65.39999999999999,263.9) scale(1.02,1.0)">SPR sensor 1</text>
<line x1="340.3" y1="249.8" x2="340.3" y2="415.90000000000003" stroke="#262626" stroke-width="1.1"/>
<line x1="337.3" y1="415.30" x2="340.3" y2="415.30" stroke="#262626" stroke-width="1.1"/>
<text x="0" y="0" font-size="9.5" font-weight="bold" stroke="#000" stroke-width="0.22" text-anchor="end" transform="translate(334.90,418.70) scale(0.96,1.06)">0</text>
<line x1="337.3" y1="382.30" x2="340.3" y2="382.30" stroke="#262626" stroke-width="1.1"/>
<text x="0" y="0" font-size="9.5" font-weight="bold" stroke="#000" stroke-width="0.22" text-anchor="end" transform="translate(334.90,385.70) scale(0.96,1.06)">10</text>
<line x1="337.3" y1="349.30" x2="340.3" y2="349.30" stroke="#262626" stroke-width="1.1"/>
<text x="0" y="0" font-size="9.5" font-weight="bold" stroke="#000" stroke-width="0.22" text-anchor="end" transform="translate(334.90,352.70) scale(0.96,1.06)">20</text>
<line x1="337.3" y1="316.30" x2="340.3" y2="316.30" stroke="#262626" stroke-width="1.1"/>
<text x="0" y="0" font-size="9.5" font-weight="bold" stroke="#000" stroke-width="0.22" text-anchor="end" transform="translate(334.90,319.70) scale(0.96,1.06)">30</text>
<line x1="337.3" y1="283.30" x2="340.3" y2="283.30" stroke="#262626" stroke-width="1.1"/>
<text x="0" y="0" font-size="9.5" font-weight="bold" stroke="#000" stroke-width="0.22" text-anchor="end" transform="translate(334.90,286.70) scale(0.96,1.06)">40</text>
<line x1="337.3" y1="250.30" x2="340.3" y2="250.30" stroke="#262626" stroke-width="1.1"/>
<text x="0" y="0" font-size="9.5" font-weight="bold" stroke="#000" stroke-width="0.22" text-anchor="end" transform="translate(334.90,253.70) scale(0.96,1.06)">50</text>
<line x1="338.5" y1="398.80" x2="340.3" y2="398.80" stroke="#262626" stroke-width="1"/>
<line x1="338.5" y1="365.80" x2="340.3" y2="365.80" stroke="#262626" stroke-width="1"/>
<line x1="338.5" y1="332.80" x2="340.3" y2="332.80" stroke="#262626" stroke-width="1"/>
<line x1="338.5" y1="299.80" x2="340.3" y2="299.80" stroke="#262626" stroke-width="1"/>
<line x1="338.5" y1="266.80" x2="340.3" y2="266.80" stroke="#262626" stroke-width="1"/>
<text x="0" y="0" font-size="10" font-weight="bold" stroke="#000" stroke-width="0.22" text-anchor="middle" transform="translate(311,329.5) rotate(-90) scale(1.09,1)">SPR signal (RU)</text>
<line x1="339.8" y1="415.3" x2="545.40" y2="415.3" stroke="#262626" stroke-width="1.1"/>
<line x1="340.20" y1="415.3" x2="340.20" y2="417.1" stroke="#262626" stroke-width="1"/>
<line x1="357.30" y1="415.3" x2="357.30" y2="418.3" stroke="#262626" stroke-width="1"/>
<text x="0" y="0" font-size="9.5" font-weight="bold" stroke="#000" stroke-width="0.22" text-anchor="middle" transform="translate(357.30,428.10) scale(0.96,1.06)">0</text>
<line x1="374.40" y1="415.3" x2="374.40" y2="417.1" stroke="#262626" stroke-width="1"/>
<line x1="391.50" y1="415.3" x2="391.50" y2="418.3" stroke="#262626" stroke-width="1"/>
<text x="0" y="0" font-size="9.5" font-weight="bold" stroke="#000" stroke-width="0.22" text-anchor="middle" transform="translate(391.50,428.10) scale(0.96,1.06)">50</text>
<line x1="408.60" y1="415.3" x2="408.60" y2="417.1" stroke="#262626" stroke-width="1"/>
<line x1="425.70" y1="415.3" x2="425.70" y2="418.3" stroke="#262626" stroke-width="1"/>
<text x="0" y="0" font-size="9.5" font-weight="bold" stroke="#000" stroke-width="0.22" text-anchor="middle" transform="translate(425.70,428.10) scale(0.96,1.06)">100</text>
<line x1="442.80" y1="415.3" x2="442.80" y2="417.1" stroke="#262626" stroke-width="1"/>
<line x1="459.90" y1="415.3" x2="459.90" y2="418.3" stroke="#262626" stroke-width="1"/>
<text x="0" y="0" font-size="9.5" font-weight="bold" stroke="#000" stroke-width="0.22" text-anchor="middle" transform="translate(459.90,428.10) scale(0.96,1.06)">150</text>
<line x1="477.00" y1="415.3" x2="477.00" y2="417.1" stroke="#262626" stroke-width="1"/>
<line x1="494.10" y1="415.3" x2="494.10" y2="418.3" stroke="#262626" stroke-width="1"/>
<text x="0" y="0" font-size="9.5" font-weight="bold" stroke="#000" stroke-width="0.22" text-anchor="middle" transform="translate(494.10,428.10) scale(0.96,1.06)">200</text>
<line x1="511.20" y1="415.3" x2="511.20" y2="417.1" stroke="#262626" stroke-width="1"/>
<line x1="528.30" y1="415.3" x2="528.30" y2="418.3" stroke="#262626" stroke-width="1"/>
<text x="0" y="0" font-size="9.5" font-weight="bold" stroke="#000" stroke-width="0.22" text-anchor="middle" transform="translate(528.30,428.10) scale(0.96,1.06)">250</text>
<line x1="545.40" y1="415.3" x2="545.40" y2="417.1" stroke="#262626" stroke-width="1"/>
<text x="0" y="0" font-size="10" font-weight="bold" stroke="#000" stroke-width="0.22" text-anchor="middle" transform="translate(442.80,445.50) scale(1.06,1.08)"><tspan font-style="italic">t</tspan> (s)</text>
<clipPath id="clipD"><rect x="340.3" y="245.3" width="205" height="170.5"/></clipPath>
<g clip-path="url(#clipD)">
<polyline points="357.30,415.30 357.64,403.82 357.98,392.76 358.33,382.96 358.67,374.50 359.01,365.83 359.35,363.20 359.69,360.90 360.04,358.74 360.38,357.02 360.72,355.40 361.06,354.56 361.40,354.01 361.75,352.72 362.09,351.66 362.43,349.79 362.77,348.26 363.11,348.09 363.46,347.26 363.80,346.93 364.14,346.49 364.48,345.78 364.82,345.48 365.17,345.10 365.51,344.40 365.85,343.67 366.19,342.80 366.53,342.48 366.88,342.10 367.22,341.50 367.56,341.56 367.90,341.10 368.24,340.39 368.59,339.80 368.93,339.04 369.27,338.06 369.61,337.90 369.95,337.41 370.30,336.98 370.64,336.52 370.98,335.64 371.32,335.33 371.66,334.54 372.01,334.40 372.35,334.29 372.69,334.11 373.03,333.93 373.37,333.25 373.72,332.82 374.06,332.15 374.40,331.40 374.74,330.69 375.08,330.55 375.43,329.82 375.77,330.20 376.11,330.36 376.45,329.74 376.79,329.64 377.14,329.11 377.48,328.76 377.82,328.35 378.16,328.20 378.50,327.76 378.85,327.08 379.19,326.53 379.53,326.05 379.87,325.56 380.21,325.40 380.56,325.41 380.90,325.20 381.24,325.14 381.58,324.66 381.92,324.25 382.27,323.85 382.61,323.23 382.95,322.95 383.29,322.27 383.63,321.99 383.98,321.83 384.32,321.61 384.66,321.85 385.00,321.17 385.34,320.54 385.69,320.11 386.03,319.63 386.37,319.45 386.71,319.11 387.05,318.86 387.40,318.59 387.74,318.89 388.08,318.61 388.42,318.52 388.76,318.36 389.11,317.44 389.45,317.29 389.79,317.26 390.13,316.79 390.47,316.79 390.82,316.34 391.16,316.17 391.50,315.96 391.84,315.64 392.18,315.26 392.53,314.78 392.87,315.13 393.21,315.15 393.55,315.16 393.89,314.42 394.24,313.00 394.58,312.29 394.92,312.29 395.26,312.00 395.60,312.16 395.95,312.04 396.29,311.57 396.63,311.21 396.97,311.16 397.31,311.10 397.66,310.86 398.00,310.93 398.34,310.65 398.68,310.35 399.02,309.99 399.37,309.39 399.71,308.76 400.05,308.12 400.39,307.65 400.73,308.21 401.08,308.50 401.42,308.59 401.76,308.94 402.10,308.44 402.44,307.81 402.79,307.70 403.13,307.26 403.47,307.27 403.81,307.28 404.15,306.39 404.50,306.17 404.84,305.34 405.18,304.68 405.52,304.89 405.86,304.37 406.21,304.15 406.55,303.90 406.89,303.69 407.23,303.94 407.57,304.00 407.92,304.06 408.26,303.53 408.60,302.99 408.94,302.59 409.28,302.25 409.63,301.87 409.97,301.72 410.31,301.01 410.65,301.03 410.99,301.21 411.34,300.62 411.68,300.62 412.02,300.29 412.36,299.94 412.70,300.09 413.05,299.77 413.39,299.20 413.73,299.11 414.07,298.61 414.41,298.68 414.76,298.60 415.10,298.18 415.44,298.19 415.78,297.77 416.12,297.42 416.47,297.11 416.81,296.48 417.15,296.43 417.49,296.69 417.83,296.70 418.18,296.70 418.52,296.42 418.86,295.70 419.20,295.18 419.54,295.05 419.89,294.88 420.23,295.06 420.57,294.80 420.91,294.64 421.25,294.68 421.60,294.51 421.94,294.67 422.28,294.04 422.62,293.39 422.96,293.35 423.31,293.09 423.65,293.23 423.99,293.08 424.33,292.40 424.67,292.35 425.02,292.13 425.36,292.24 425.70,292.70 426.04,292.54 426.38,292.64 426.73,292.09 427.07,291.11 427.41,291.03 427.75,290.65 428.09,290.69 428.44,291.13 428.78,291.21 429.12,291.12 429.46,290.94 429.80,290.57 430.15,290.57 430.49,290.40 430.83,290.42 431.17,290.33 431.51,289.59 431.86,289.71 432.20,289.27 432.54,288.90 432.88,288.81 433.22,288.32 433.57,288.31 433.91,288.54 434.25,288.30 434.59,288.34 434.93,288.61 435.28,288.26 435.62,287.98 435.96,287.89 436.30,286.98 436.64,286.27 436.99,286.32 437.33,285.90 437.67,286.30 438.01,286.32 438.35,286.37 438.70,270.41 439.04,270.66 439.38,254.71 439.72,277.12 440.06,289.16 440.41,295.49 440.75,298.80 441.09,300.72 441.43,301.69 441.77,302.26 442.12,302.62 442.46,303.01 442.80,303.60 443.14,303.94 443.48,304.07 443.83,303.99 444.17,304.19 444.51,304.80 444.85,305.46 445.19,306.13 445.54,306.71 445.88,306.56 446.22,306.94 446.56,307.33 446.90,307.65 447.25,307.92 447.59,307.68 447.93,308.15 448.27,308.59 448.61,309.41 448.96,309.85 449.30,309.80 449.64,310.14 449.98,310.38 450.32,310.80 450.67,310.95 451.01,311.32 451.35,311.51 451.69,311.81 452.03,312.29 452.38,312.26 452.72,312.66 453.06,313.06 453.40,313.80 453.74,314.09 454.09,313.80 454.43,314.37 454.77,314.23 455.11,314.23 455.45,314.73 455.80,314.90 456.14,314.66 456.48,315.43 456.82,315.25 457.16,315.13 457.51,315.78 457.85,315.61 458.19,316.14 458.53,316.04 458.87,315.92 459.22,316.15 459.56,316.00 459.90,316.15 460.24,316.38 460.58,316.48 460.93,317.00 461.27,317.36 461.61,317.44 461.95,317.52 462.29,317.65 462.64,317.55 462.98,317.93 463.32,318.10 463.66,318.06 464.00,318.74 464.35,318.90 464.69,318.75 465.03,319.35 465.37,318.95 465.71,319.29 466.06,319.75 466.40,319.93 466.74,320.51 467.08,320.49 467.42,320.87 467.77,320.51 468.11,320.30 468.45,320.14 468.79,320.10 469.13,320.09 469.48,320.19 469.82,320.47 470.16,320.91 470.50,321.29 470.84,321.52 471.19,321.72 471.53,321.43 471.87,321.55 472.21,321.92 472.55,321.95 472.90,322.18 473.24,322.43 473.58,322.59 473.92,322.98 474.26,323.18 474.61,323.04 474.95,322.53 475.29,322.65 475.63,323.08 475.97,323.65 476.32,324.57 476.66,324.72 477.00,324.50 477.34,324.78 477.68,324.56 478.03,324.40 478.37,324.26 478.71,323.73 479.05,323.77 479.39,323.54 479.74,324.17 480.08,324.68 480.42,325.02 480.76,325.60 481.10,325.36 481.45,325.64 481.79,325.39 482.13,325.31 482.47,325.61 482.81,325.54 483.16,326.33 483.50,327.37 483.84,327.61 484.18,327.77 484.52,327.60 484.87,327.39 485.21,327.60 485.55,327.37 485.89,327.37 486.23,327.07 486.58,327.16 486.92,327.53 487.26,327.51 487.60,327.60 487.94,327.74 488.29,327.97 488.63,328.61 488.97,328.99 489.31,328.86 489.65,329.17 490.00,329.13 490.34,328.82 490.68,329.12 491.02,328.91 491.36,329.04 491.71,329.77 492.05,329.84 492.39,330.22 492.73,330.75 493.07,330.87 493.42,331.08 493.76,330.74 494.10,330.49 494.44,330.31 494.78,330.15 495.13,330.54 495.47,330.59 495.81,330.27 496.15,330.19 496.49,330.95 496.84,330.73 497.18,331.11 497.52,331.30 497.86,330.78 498.20,330.91 498.55,330.67 498.89,330.59 499.23,330.27 499.57,330.31 499.91,330.65 500.26,330.93 500.60,331.73 500.94,331.52 501.28,331.78 501.62,332.03 501.97,331.82 502.31,332.35 502.65,333.01 502.99,333.12 503.33,333.55 503.68,333.99 504.02,334.02 504.36,334.58 504.70,334.22 505.04,334.19 505.39,333.85 505.73,333.56 506.07,334.07 506.41,334.21 506.75,334.57 507.10,334.69 507.44,335.03 507.78,335.04 508.12,334.59 508.46,334.31 508.81,333.57 509.15,333.43 509.49,333.98 509.83,334.13 510.17,334.36 510.52,334.50 510.86,334.62 511.20,334.82 511.54,334.68 511.88,334.64 512.23,334.47 512.57,334.51 512.91,334.93 513.25,335.13 513.59,334.94 513.94,335.06 514.28,335.11 514.62,335.13 514.96,335.60 515.30,336.00 515.65,335.96 515.99,336.27 516.33,335.99 516.67,336.26 517.01,336.15 517.36,336.09 517.70,335.88 518.04,336.09 518.38,336.86 518.72,336.55 519.07,336.97 519.41,336.35 519.75,335.97 520.09,336.33 520.43,336.29 520.78,336.67 521.12,336.80 521.46,336.58 521.80,336.72 522.14,336.68 522.49,336.67 522.83,336.79 523.17,336.94 523.51,336.89 523.85,336.84 524.20,336.95 524.54,336.59 524.88,336.63 525.22,336.72 525.56,336.73 525.91,337.60 526.25,337.59 526.59,337.61 526.93,337.94 527.27,337.74 527.62,337.68 527.96,337.54 528.30,337.59 528.64,337.55 528.98,337.79 529.33,337.77 529.67,337.49 530.01,337.41 530.35,337.67 530.69,338.41 531.04,338.84 531.38,338.97 531.72,338.68 532.06,338.70 532.40,338.69 532.75,338.53 533.09,339.05 533.43,338.26 533.77,338.13 534.11,338.18 534.46,338.13 534.80,338.98 535.14,338.91 535.48,338.87 535.82,339.18 536.17,338.69 536.51,338.80 536.85,338.91 537.19,338.62 537.53,338.88 537.88,339.24 538.22,339.29 538.56,338.61 538.90,338.55 539.24,338.19 539.59,338.44 539.93,339.17 540.27,339.36 540.61,339.39 540.95,338.98 541.30,338.78 541.64,338.75 541.98,339.13 542.32,339.94 542.66,339.94 543.01,339.94 543.35,339.98 543.69,339.63 544.03,340.11 544.37,340.21 544.72,339.80 545.06,339.79 545.40,339.38" fill="none" stroke="#515151" stroke-width="1.1" stroke-linejoin="round"/>
<polyline points="357.30,415.30 357.64,410.56 357.98,404.11 358.33,396.09 358.67,386.52 359.01,377.07 359.35,372.36 359.69,369.52 360.04,366.82 360.38,365.24 360.72,364.20 361.06,362.68 361.40,361.46 361.75,360.42 362.09,360.14 362.43,360.26 362.77,360.32 363.11,360.47 363.46,359.97 363.80,359.27 364.14,358.76 364.48,357.90 364.82,357.48 365.17,357.34 365.51,356.87 365.85,356.24 366.19,355.85 366.53,355.57 366.88,355.27 367.22,354.95 367.56,354.77 367.90,353.90 368.24,352.97 368.59,353.65 368.93,352.84 369.27,352.85 369.61,353.15 369.95,352.40 370.30,352.28 370.64,351.84 370.98,351.17 371.32,350.93 371.66,350.47 372.01,349.91 372.35,349.29 372.69,348.60 373.03,348.18 373.37,347.78 373.72,347.80 374.06,347.58 374.40,347.65 374.74,347.78 375.08,347.50 375.43,347.90 375.77,347.88 376.11,347.66 376.45,348.16 376.79,347.87 377.14,347.17 377.48,347.33 377.82,346.70 378.16,346.04 378.50,346.33 378.85,346.07 379.19,345.88 379.53,345.87 379.87,345.70 380.21,345.25 380.56,344.53 380.90,344.15 381.24,343.42 381.58,343.09 381.92,343.10 382.27,342.86 382.61,343.15 382.95,343.05 383.29,343.01 383.63,343.25 383.98,342.81 384.32,342.60 384.66,342.41 385.00,342.11 385.34,342.76 385.69,342.37 386.03,342.31 386.37,342.54 386.71,341.56 387.05,341.92 387.40,341.56 387.74,340.88 388.08,340.59 388.42,340.18 388.76,340.11 389.11,339.87 389.45,339.66 389.79,339.86 390.13,339.45 390.47,339.14 390.82,339.39 391.16,338.89 391.50,339.10 391.84,339.07 392.18,338.52 392.53,338.50 392.87,338.02 393.21,337.62 393.55,337.51 393.89,336.78 394.24,336.79 394.58,336.67 394.92,336.03 395.26,336.22 395.60,336.05 395.95,336.03 396.29,336.31 396.63,336.29 396.97,336.13 397.31,336.37 397.66,336.59 398.00,336.51 398.34,336.55 398.68,336.04 399.02,335.43 399.37,335.09 399.71,334.94 400.05,334.59 400.39,334.54 400.73,334.61 401.08,334.06 401.42,334.20 401.76,334.22 402.10,333.87 402.44,333.53 402.79,333.29 403.13,333.03 403.47,332.63 403.81,332.40 404.15,331.73 404.50,331.72 404.84,331.30 405.18,331.30 405.52,331.12 405.86,330.43 406.21,330.68 406.55,330.57 406.89,330.75 407.23,330.74 407.57,330.03 407.92,329.85 408.26,329.77 408.60,329.06 408.94,329.53 409.28,329.37 409.63,329.04 409.97,329.79 410.31,329.18 410.65,328.74 410.99,328.59 411.34,328.09 411.68,328.15 412.02,328.66 412.36,328.41 412.70,328.56 413.05,328.58 413.39,327.88 413.73,327.54 414.07,327.27 414.41,326.59 414.76,326.08 415.10,326.09 415.44,325.73 415.78,325.79 416.12,326.15 416.47,326.23 416.81,325.88 417.15,325.59 417.49,325.44 417.83,325.17 418.18,325.31 418.52,325.49 418.86,325.44 419.20,325.54 419.54,325.00 419.89,324.75 420.23,324.33 420.57,323.36 420.91,323.54 421.25,323.15 421.60,323.33 421.94,323.76 422.28,323.31 422.62,323.36 422.96,323.22 423.31,323.28 423.65,323.21 423.99,323.22 424.33,322.55 424.67,321.95 425.02,321.95 425.36,321.58 425.70,321.41 426.04,321.32 426.38,321.31 426.73,321.06 427.07,321.18 427.41,321.09 427.75,320.56 428.09,320.41 428.44,319.93 428.78,319.76 429.12,319.86 429.46,319.87 429.80,319.87 430.15,319.87 430.49,319.70 430.83,319.67 431.17,319.80 431.51,319.50 431.86,318.68 432.20,318.42 432.54,318.02 432.88,317.81 433.22,318.28 433.57,318.04 433.91,317.48 434.25,317.42 434.59,316.85 434.93,316.56 435.28,317.09 435.62,317.04 435.96,317.39 436.30,317.67 436.64,317.04 436.99,316.64 437.33,316.26 437.67,316.28 438.01,316.19 438.35,325.42 438.70,303.37 439.04,303.30 439.38,281.41 439.72,303.22 440.06,315.14 440.41,321.43 440.75,324.83 441.09,326.60 441.43,327.58 441.77,328.07 442.12,328.30 442.46,328.70 442.80,329.32 443.14,329.88 443.48,330.37 443.83,330.81 444.17,330.56 444.51,330.58 444.85,330.79 445.19,331.10 445.54,331.50 445.88,331.88 446.22,332.40 446.56,332.59 446.90,332.43 447.25,332.77 447.59,333.02 447.93,332.86 448.27,333.52 448.61,333.69 448.96,333.41 449.30,334.27 449.64,334.80 449.98,335.35 450.32,335.57 450.67,335.43 451.01,334.90 451.35,334.59 451.69,334.99 452.03,335.45 452.38,336.51 452.72,336.90 453.06,336.96 453.40,337.09 453.74,337.54 454.09,337.37 454.43,337.52 454.77,337.64 455.11,337.12 455.45,337.20 455.80,337.27 456.14,337.56 456.48,337.78 456.82,338.42 457.16,338.84 457.51,338.78 457.85,338.47 458.19,336.61 458.53,336.40 458.87,339.38 459.22,342.00 459.56,341.89 459.90,340.44 460.24,339.57 460.58,340.01 460.93,340.58 461.27,340.67 461.61,340.54 461.95,340.42 462.29,340.11 462.64,339.75 462.98,340.00 463.32,339.99 463.66,340.30 464.00,340.73 464.35,340.72 464.69,340.64 465.03,340.66 465.37,340.76 465.71,340.80 466.06,340.99 466.40,340.71 466.74,341.27 467.08,341.28 467.42,341.36 467.77,341.52 468.11,340.78 468.45,341.02 468.79,341.12 469.13,341.41 469.48,341.61 469.82,341.34 470.16,341.33 470.50,341.25 470.84,341.23 471.19,341.56 471.53,342.04 471.87,342.47 472.21,343.10 472.55,343.21 472.90,343.07 473.24,342.62 473.58,342.69 473.92,342.49 474.26,342.59 474.61,342.69 474.95,342.60 475.29,342.72 475.63,342.17 475.97,342.15 476.32,342.02 476.66,342.62 477.00,343.37 477.34,344.63 477.68,344.61 478.03,344.20 478.37,343.83 478.71,343.41 479.05,343.17 479.39,343.72 479.74,343.83 480.08,344.02 480.42,344.91 480.76,344.52 481.10,344.56 481.45,344.50 481.79,344.45 482.13,344.55 482.47,345.32 482.81,344.94 483.16,345.37 483.50,345.56 483.84,345.25 484.18,345.28 484.52,345.10 484.87,345.41 485.21,345.51 485.55,346.06 485.89,346.08 486.23,346.31 486.58,346.44 486.92,346.11 487.26,346.20 487.60,345.76 487.94,345.52 488.29,345.55 488.63,345.82 488.97,346.04 489.31,345.93 489.65,345.98 490.00,345.46 490.34,345.26 490.68,346.04 491.02,346.19 491.36,346.41 491.71,346.89 492.05,346.91 492.39,347.07 492.73,347.31 493.07,346.84 493.42,346.26 493.76,346.46 494.10,346.74 494.44,347.48 494.78,347.87 495.13,348.00 495.47,347.32 495.81,347.46 496.15,347.53 496.49,347.37 496.84,347.80 497.18,347.79 497.52,347.88 497.86,347.92 498.20,348.00 498.55,347.96 498.89,348.04 499.23,348.08 499.57,347.74 499.91,347.94 500.26,347.75 500.60,347.46 500.94,348.32 501.28,347.72 501.62,347.59 501.97,348.00 502.31,347.48 502.65,347.51 502.99,347.94 503.33,347.94 503.68,348.48 504.02,349.06 504.36,349.05 504.70,349.17 505.04,348.56 505.39,348.49 505.73,348.85 506.07,348.66 506.41,348.87 506.75,348.77 507.10,348.55 507.44,349.01 507.78,349.44 508.12,349.21 508.46,349.03 508.81,348.86 509.15,348.65 509.49,349.15 509.83,349.61 510.17,349.80 510.52,349.96 510.86,350.32 511.20,350.50 511.54,350.85 511.88,351.00 512.23,350.50 512.57,350.53 512.91,350.44 513.25,350.77 513.59,351.09 513.94,351.10 514.28,351.12 514.62,351.05 514.96,350.44 515.30,350.22 515.65,350.18 515.99,350.07 516.33,350.45 516.67,350.24 517.01,350.05 517.36,350.47 517.70,350.48 518.04,350.50 518.38,350.42 518.72,349.87 519.07,350.13 519.41,350.14 519.75,350.44 520.09,350.34 520.43,350.52 520.78,350.95 521.12,351.02 521.46,351.45 521.80,351.49 522.14,351.25 522.49,350.81 522.83,350.88 523.17,351.06 523.51,350.98 523.85,351.48 524.20,351.28 524.54,351.03 524.88,351.15 525.22,351.32 525.56,351.15 525.91,351.03 526.25,351.82 526.59,351.68 526.93,352.09 527.27,352.23 527.62,351.75 527.96,351.93 528.30,351.96 528.64,352.00 528.98,352.01 529.33,351.90 529.67,351.31 530.01,351.30 530.35,351.62 530.69,351.59 531.04,352.08 531.38,352.48 531.72,352.22 532.06,352.48 532.40,353.14 532.75,352.84 533.09,352.75 533.43,352.43 533.77,351.95 534.11,352.21 534.46,352.34 534.80,352.41 535.14,352.18 535.48,351.74 535.82,351.63 536.17,351.91 536.51,352.17 536.85,352.86 537.19,352.91 537.53,352.66 537.88,352.38 538.22,351.95 538.56,351.77 538.90,352.10 539.24,352.34 539.59,352.54 539.93,353.00 540.27,353.28 540.61,353.57 540.95,354.02 541.30,354.07 541.64,353.84 541.98,353.65 542.32,353.64 542.66,353.71 543.01,353.63 543.35,354.25 543.69,353.44 544.03,353.22 544.37,353.37 544.72,352.37 545.06,352.47 545.40,352.60" fill="none" stroke="#F14040" stroke-width="1.1" stroke-linejoin="round"/>
<polyline points="357.30,415.30 357.64,411.59 357.98,408.71 358.33,405.80 358.67,403.45 359.01,400.60 359.35,397.84 359.69,396.29 360.04,394.84 360.38,394.16 360.72,393.67 361.06,393.28 361.40,392.65 361.75,392.36 362.09,391.91 362.43,391.63 362.77,391.67 363.11,391.30 363.46,390.91 363.80,390.54 364.14,390.23 364.48,390.02 364.82,389.78 365.17,389.72 365.51,389.41 365.85,388.83 366.19,388.76 366.53,388.31 366.88,387.60 367.22,387.81 367.56,387.77 367.90,387.65 368.24,387.65 368.59,386.93 368.93,386.68 369.27,386.33 369.61,386.49 369.95,386.80 370.30,386.77 370.64,386.53 370.98,386.53 371.32,386.22 371.66,385.70 372.01,385.40 372.35,384.88 372.69,384.99 373.03,384.90 373.37,384.89 373.72,385.19 374.06,384.89 374.40,384.64 374.74,384.96 375.08,384.79 375.43,384.87 375.77,384.71 376.11,384.37 376.45,383.83 376.79,383.36 377.14,383.16 377.48,382.94 377.82,382.83 378.16,382.73 378.50,382.87 378.85,382.51 379.19,382.34 379.53,381.78 379.87,381.49 380.21,381.68 380.56,381.99 380.90,382.96 381.24,383.04 381.58,382.72 381.92,382.49 382.27,382.14 382.61,381.66 382.95,381.73 383.29,381.50 383.63,380.99 383.98,380.99 384.32,380.67 384.66,380.78 385.00,380.62 385.34,380.55 385.69,380.30 386.03,380.05 386.37,379.58 386.71,379.25 387.05,379.03 387.40,378.84 387.74,378.86 388.08,378.78 388.42,379.21 388.76,379.00 389.11,379.10 389.45,379.21 389.79,378.95 390.13,379.03 390.47,378.91 390.82,378.55 391.16,378.42 391.50,378.32 391.84,377.92 392.18,377.92 392.53,377.65 392.87,377.29 393.21,377.45 393.55,377.15 393.89,377.12 394.24,376.95 394.58,376.99 394.92,377.28 395.26,377.13 395.60,376.67 395.95,376.26 396.29,375.49 396.63,375.22 396.97,375.36 397.31,375.38 397.66,375.62 398.00,375.26 398.34,375.01 398.68,374.90 399.02,374.87 399.37,374.84 399.71,375.03 400.05,374.64 400.39,374.60 400.73,374.62 401.08,374.14 401.42,374.04 401.76,373.72 402.10,373.70 402.44,373.88 402.79,373.92 403.13,373.64 403.47,373.35 403.81,373.15 404.15,373.26 404.50,373.46 404.84,373.50 405.18,373.46 405.52,373.36 405.86,373.04 406.21,372.52 406.55,372.64 406.89,372.28 407.23,372.00 407.57,372.43 407.92,372.18 408.26,372.05 408.60,372.14 408.94,372.03 409.28,371.68 409.63,371.95 409.97,371.83 410.31,371.58 410.65,371.69 410.99,371.17 411.34,371.18 411.68,370.91 412.02,370.86 412.36,370.84 412.70,371.00 413.05,371.34 413.39,371.20 413.73,371.38 414.07,371.18 414.41,371.13 414.76,371.08 415.10,370.68 415.44,370.27 415.78,370.28 416.12,370.14 416.47,369.91 416.81,369.75 417.15,369.05 417.49,369.19 417.83,369.35 418.18,369.41 418.52,369.41 418.86,369.01 419.20,368.79 419.54,368.77 419.89,368.99 420.23,368.93 420.57,368.75 420.91,368.77 421.25,368.34 421.60,368.80 421.94,368.92 422.28,368.48 422.62,368.45 422.96,367.60 423.31,367.44 423.65,367.88 423.99,368.05 424.33,367.96 424.67,368.24 425.02,368.12 425.36,368.26 425.70,368.55 426.04,368.22 426.38,367.87 426.73,367.64 427.07,367.16 427.41,366.89 427.75,367.01 428.09,366.97 428.44,367.47 428.78,367.49 429.12,366.98 429.46,366.76 429.80,366.61 430.15,366.57 430.49,366.95 430.83,367.02 431.17,367.10 431.51,367.04 431.86,366.61 432.20,366.16 432.54,365.58 432.88,365.46 433.22,365.58 433.57,365.56 433.91,365.68 434.25,365.60 434.59,365.70 434.93,365.61 435.28,365.71 435.62,365.58 435.96,365.29 436.30,365.29 436.64,364.93 436.99,365.08 437.33,365.28 437.67,365.36 438.01,365.36 438.35,374.23 438.70,356.89 439.04,356.90 439.38,339.60 439.72,352.68 440.06,359.74 440.41,363.46 440.75,365.35 441.09,366.36 441.43,366.89 441.77,367.16 442.12,367.39 442.46,367.71 442.80,367.30 443.14,367.64 443.48,368.07 443.83,368.89 444.17,369.43 444.51,369.98 444.85,370.32 445.19,370.46 445.54,371.09 445.88,371.74 446.22,372.16 446.56,372.75 446.90,372.79 447.25,372.81 447.59,372.87 447.93,373.22 448.27,373.13 448.61,373.09 448.96,373.39 449.30,373.15 449.64,373.37 449.98,373.46 450.32,373.49 450.67,373.60 451.01,373.82 451.35,374.35 451.69,374.75 452.03,375.13 452.38,375.26 452.72,374.92 453.06,374.78 453.40,374.54 453.74,374.67 454.09,375.09 454.43,375.38 454.77,375.89 455.11,376.18 455.45,376.03 455.80,375.87 456.14,376.23 456.48,376.79 456.82,376.68 457.16,375.63 457.51,375.16 457.85,376.69 458.19,378.47 458.53,377.95 458.87,376.58 459.22,376.22 459.56,376.83 459.90,377.29 460.24,377.57 460.58,377.54 460.93,377.16 461.27,377.13 461.61,376.93 461.95,377.26 462.29,377.54 462.64,377.38 462.98,377.43 463.32,377.59 463.66,377.92 464.00,378.38 464.35,379.04 464.69,379.10 465.03,379.21 465.37,379.08 465.71,378.68 466.06,378.91 466.40,378.90 466.74,378.88 467.08,378.88 467.42,378.91 467.77,379.00 468.11,379.03 468.45,379.06 468.79,378.89 469.13,378.83 469.48,378.85 469.82,378.92 470.16,378.56 470.50,378.66 470.84,378.97 471.19,378.73 471.53,379.24 471.87,379.34 472.21,379.18 472.55,379.93 472.90,379.88 473.24,379.78 473.58,379.85 473.92,379.61 474.26,379.49 474.61,379.48 474.95,379.57 475.29,379.40 475.63,379.83 475.97,379.94 476.32,380.25 476.66,380.55 477.00,380.39 477.34,380.38 477.68,380.02 478.03,379.98 478.37,380.09 478.71,380.27 479.05,380.40 479.39,380.18 479.74,380.01 480.08,379.82 480.42,380.05 480.76,380.20 481.10,380.62 481.45,381.11 481.79,380.98 482.13,381.04 482.47,380.76 482.81,380.31 483.16,380.61 483.50,380.84 483.84,381.02 484.18,381.20 484.52,380.95 484.87,381.07 485.21,381.17 485.55,381.11 485.89,380.90 486.23,380.94 486.58,380.65 486.92,380.87 487.26,381.53 487.60,381.12 487.94,381.65 488.29,381.87 488.63,381.53 488.97,381.64 489.31,381.50 489.65,381.47 490.00,381.93 490.34,382.15 490.68,382.64 491.02,382.83 491.36,382.43 491.71,382.40 492.05,381.82 492.39,381.54 492.73,381.99 493.07,382.08 493.42,382.68 493.76,382.69 494.10,382.30 494.44,382.62 494.78,382.17 495.13,382.35 495.47,382.68 495.81,382.91 496.15,383.18 496.49,383.09 496.84,383.43 497.18,383.22 497.52,383.37 497.86,383.88 498.20,383.43 498.55,383.40 498.89,383.32 499.23,382.90 499.57,383.28 499.91,382.75 500.26,382.89 500.60,383.32 500.94,383.12 501.28,383.69 501.62,383.83 501.97,383.82 502.31,383.83 502.65,383.89 502.99,383.69 503.33,383.41 503.68,383.71 504.02,383.57 504.36,383.68 504.70,383.75 505.04,383.84 505.39,383.97 505.73,383.96 506.07,383.67 506.41,383.57 506.75,383.46 507.10,383.43 507.44,383.62 507.78,383.58 508.12,383.79 508.46,384.34 508.81,384.88 509.15,384.76 509.49,384.80 509.83,384.29 510.17,384.14 510.52,384.22 510.86,384.39 511.20,384.57 511.54,384.33 511.88,384.31 512.23,384.35 512.57,384.36 512.91,384.57 513.25,384.82 513.59,384.78 513.94,384.99 514.28,384.96 514.62,385.15 514.96,385.34 515.30,384.97 515.65,384.77 515.99,384.28 516.33,384.07 516.67,384.43 517.01,384.65 517.36,384.73 517.70,384.80 518.04,384.81 518.38,385.27 518.72,385.88 519.07,385.62 519.41,385.83 519.75,385.68 520.09,385.46 520.43,385.75 520.78,385.75 521.12,385.55 521.46,385.42 521.80,385.48 522.14,385.39 522.49,385.58 522.83,386.06 523.17,385.98 523.51,385.99 523.85,386.20 524.20,385.88 524.54,385.93 524.88,385.80 525.22,385.47 525.56,385.27 525.91,385.48 526.25,385.54 526.59,385.63 526.93,386.12 527.27,385.85 527.62,385.97 527.96,385.99 528.30,385.70 528.64,386.07 528.98,385.88 529.33,385.77 529.67,385.82 530.01,386.21 530.35,386.14 530.69,386.36 531.04,386.52 531.38,386.07 531.72,386.41 532.06,386.40 532.40,386.43 532.75,387.20 533.09,387.60 533.43,387.47 533.77,386.56 534.11,385.35 534.46,385.16 534.80,385.51 535.14,386.14 535.48,386.16 535.82,385.90 536.17,386.23 536.51,386.05 536.85,386.27 537.19,386.58 537.53,386.16 537.88,386.36 538.22,386.43 538.56,386.18 538.90,386.17 539.24,386.06 539.59,385.45 539.93,385.86 540.27,386.35 540.61,386.47 540.95,387.19 541.30,386.95 541.64,386.77 541.98,386.84 542.32,386.64 542.66,386.86 543.01,387.11 543.35,387.13 543.69,387.01 544.03,386.82 544.37,386.31 544.72,385.88 545.06,385.85 545.40,385.90" fill="none" stroke="#1A6FDF" stroke-width="1.1" stroke-linejoin="round"/>
<polyline points="357.30,415.30 357.64,413.75 357.98,412.45 358.33,411.60 358.67,410.66 359.01,409.40 359.35,408.79 359.69,408.10 360.04,407.97 360.38,407.83 360.72,407.24 361.06,407.06 361.40,406.77 361.75,406.25 362.09,406.15 362.43,406.24 362.77,405.96 363.11,406.23 363.46,406.08 363.80,406.01 364.14,405.81 364.48,405.85 364.82,405.63 365.17,405.26 365.51,405.02 365.85,404.75 366.19,405.19 366.53,405.37 366.88,405.55 367.22,405.03 367.56,404.51 367.90,403.99 368.24,404.01 368.59,404.34 368.93,404.40 369.27,404.33 369.61,404.19 369.95,404.06 370.30,403.65 370.64,403.89 370.98,403.72 371.32,403.80 371.66,404.02 372.01,403.66 372.35,403.37 372.69,403.30 373.03,403.59 373.37,403.56 373.72,403.41 374.06,403.22 374.40,402.69 374.74,402.70 375.08,403.25 375.43,403.50 375.77,403.48 376.11,403.34 376.45,403.16 376.79,402.71 377.14,402.76 377.48,402.94 377.82,402.83 378.16,402.53 378.50,402.33 378.85,402.15 379.19,401.96 379.53,402.03 379.87,402.06 380.21,401.93 380.56,401.93 380.90,401.88 381.24,401.79 381.58,401.67 381.92,401.75 382.27,401.89 382.61,401.99 382.95,401.78 383.29,401.57 383.63,401.41 383.98,401.44 384.32,401.81 384.66,401.94 385.00,401.91 385.34,401.74 385.69,401.29 386.03,401.12 386.37,400.89 386.71,400.72 387.05,400.84 387.40,400.81 387.74,400.94 388.08,400.90 388.42,401.08 388.76,400.80 389.11,401.00 389.45,400.96 389.79,400.83 390.13,400.87 390.47,400.77 390.82,400.60 391.16,400.68 391.50,400.76 391.84,400.69 392.18,400.82 392.53,400.58 392.87,399.97 393.21,400.21 393.55,399.96 393.89,399.85 394.24,400.04 394.58,399.53 394.92,399.57 395.26,399.38 395.60,399.57 395.95,399.54 396.29,399.58 396.63,399.76 396.97,399.45 397.31,399.58 397.66,399.35 398.00,399.77 398.34,399.94 398.68,399.83 399.02,399.77 399.37,399.22 399.71,399.13 400.05,398.93 400.39,399.04 400.73,399.47 401.08,399.51 401.42,399.78 401.76,399.62 402.10,399.36 402.44,399.37 402.79,399.19 403.13,399.31 403.47,399.13 403.81,399.00 404.15,399.08 404.50,398.80 404.84,398.96 405.18,399.04 405.52,399.23 405.86,399.40 406.21,399.02 406.55,398.75 406.89,398.18 407.23,398.11 407.57,398.33 407.92,398.55 408.26,398.62 408.60,398.63 408.94,398.65 409.28,398.60 409.63,398.44 409.97,398.39 410.31,398.19 410.65,398.22 410.99,398.21 411.34,398.16 411.68,397.85 412.02,397.67 412.36,397.52 412.70,397.72 413.05,397.62 413.39,397.81 413.73,397.94 414.07,397.74 414.41,398.09 414.76,397.88 415.10,397.91 415.44,397.80 415.78,397.62 416.12,397.34 416.47,397.01 416.81,396.69 417.15,396.62 417.49,396.89 417.83,396.67 418.18,396.83 418.52,397.28 418.86,396.98 419.20,397.34 419.54,397.51 419.89,397.15 420.23,397.23 420.57,397.30 420.91,397.11 421.25,397.00 421.60,397.00 421.94,396.76 422.28,396.71 422.62,396.38 422.96,396.24 423.31,396.43 423.65,396.44 423.99,396.39 424.33,396.16 424.67,396.10 425.02,395.96 425.36,396.28 425.70,396.57 426.04,396.66 426.38,397.01 426.73,396.95 427.07,396.84 427.41,396.48 427.75,396.33 428.09,396.30 428.44,396.29 428.78,396.38 429.12,396.67 429.46,396.78 429.80,396.76 430.15,396.62 430.49,396.30 430.83,395.94 431.17,396.43 431.51,396.30 431.86,396.25 432.20,396.40 432.54,396.05 432.88,396.44 433.22,396.36 433.57,396.34 433.91,396.36 434.25,396.02 434.59,396.02 434.93,396.00 435.28,395.92 435.62,396.15 435.96,396.07 436.30,396.30 436.64,396.06 436.99,396.15 437.33,396.07 437.67,395.79 438.01,395.82 438.35,399.07 438.70,388.23 439.04,388.09 439.38,377.31 439.72,386.28 440.06,391.16 440.41,393.80 440.75,395.11 441.09,395.78 441.43,396.18 441.77,396.52 442.12,396.65 442.46,396.85 442.80,397.20 443.14,396.79 443.48,396.73 443.83,396.74 444.17,396.59 444.51,396.80 444.85,397.01 445.19,397.13 445.54,397.20 445.88,397.45 446.22,397.66 446.56,397.57 446.90,398.04 447.25,397.96 447.59,397.98 447.93,398.09 448.27,397.73 448.61,398.22 448.96,398.22 449.30,398.37 449.64,398.55 449.98,398.17 450.32,398.51 450.67,398.74 451.01,399.18 451.35,399.17 451.69,399.24 452.03,399.17 452.38,399.12 452.72,399.74 453.06,399.76 453.40,399.92 453.74,399.72 454.09,399.49 454.43,399.69 454.77,399.81 455.11,399.98 455.45,399.91 455.80,399.69 456.14,399.55 456.48,399.88 456.82,399.95 457.16,400.15 457.51,400.47 457.85,399.76 458.19,399.46 458.53,400.67 458.87,401.44 459.22,401.09 459.56,400.59 459.90,400.35 460.24,400.36 460.58,400.59 460.93,400.89 461.27,400.92 461.61,401.05 461.95,400.79 462.29,400.23 462.64,400.17 462.98,400.04 463.32,399.94 463.66,400.17 464.00,400.16 464.35,400.48 464.69,400.85 465.03,401.14 465.37,401.34 465.71,401.04 466.06,400.89 466.40,400.78 466.74,401.11 467.08,401.21 467.42,401.25 467.77,401.47 468.11,401.13 468.45,401.30 468.79,401.31 469.13,401.48 469.48,401.73 469.82,401.49 470.16,401.80 470.50,401.61 470.84,401.50 471.19,401.70 471.53,401.34 471.87,401.24 472.21,401.03 472.55,401.02 472.90,401.35 473.24,401.08 473.58,401.08 473.92,401.23 474.26,401.19 474.61,401.64 474.95,402.12 475.29,402.10 475.63,401.91 475.97,402.24 476.32,402.07 476.66,401.72 477.00,401.65 477.34,401.33 477.68,401.35 478.03,401.47 478.37,401.92 478.71,401.79 479.05,401.83 479.39,402.00 479.74,401.80 480.08,401.51 480.42,401.55 480.76,401.91 481.10,402.02 481.45,402.29 481.79,402.19 482.13,401.52 482.47,401.56 482.81,401.66 483.16,401.47 483.50,401.62 483.84,401.52 484.18,401.38 484.52,401.76 484.87,402.22 485.21,402.22 485.55,402.21 485.89,401.92 486.23,401.68 486.58,401.61 486.92,401.76 487.26,401.92 487.60,402.06 487.94,402.42 488.29,402.54 488.63,402.63 488.97,402.49 489.31,401.88 489.65,401.64 490.00,401.18 490.34,401.43 490.68,401.92 491.02,402.08 491.36,402.22 491.71,401.75 492.05,401.53 492.39,401.43 492.73,401.60 493.07,402.03 493.42,402.11 493.76,402.13 494.10,402.16 494.44,402.22 494.78,402.29 495.13,402.40 495.47,402.55 495.81,402.23 496.15,402.28 496.49,402.17 496.84,402.24 497.18,402.52 497.52,402.64 497.86,402.93 498.20,402.74 498.55,402.72 498.89,402.81 499.23,402.75 499.57,402.78 499.91,402.76 500.26,402.26 500.60,402.55 500.94,402.42 501.28,402.30 501.62,402.54 501.97,402.29 502.31,402.57 502.65,403.03 502.99,403.04 503.33,403.03 503.68,403.02 504.02,402.43 504.36,402.68 504.70,402.61 505.04,402.42 505.39,402.72 505.73,402.51 506.07,402.47 506.41,402.54 506.75,402.74 507.10,403.02 507.44,402.90 507.78,402.87 508.12,402.71 508.46,402.63 508.81,402.59 509.15,402.74 509.49,402.89 509.83,402.62 510.17,403.04 510.52,403.06 510.86,402.89 511.20,403.26 511.54,403.06 511.88,402.97 512.23,402.91 512.57,402.77 512.91,402.57 513.25,402.63 513.59,402.80 513.94,402.73 514.28,403.08 514.62,403.48 514.96,403.23 515.30,403.59 515.65,403.84 515.99,403.40 516.33,403.72 516.67,403.27 517.01,402.80 517.36,402.69 517.70,402.63 518.04,402.76 518.38,403.15 518.72,403.22 519.07,403.22 519.41,403.31 519.75,403.09 520.09,403.22 520.43,403.15 520.78,403.01 521.12,403.06 521.46,403.16 521.80,403.46 522.14,403.34 522.49,403.28 522.83,403.28 523.17,403.34 523.51,403.54 523.85,403.83 524.20,403.75 524.54,403.57 524.88,403.50 525.22,403.37 525.56,403.62 525.91,403.91 526.25,404.20 526.59,403.88 526.93,403.67 527.27,403.41 527.62,403.14 527.96,403.53 528.30,403.43 528.64,403.58 528.98,403.98 529.33,403.75 529.67,404.14 530.01,403.77 530.35,403.59 530.69,403.44 531.04,403.33 531.38,403.56 531.72,403.31 532.06,403.73 532.40,403.61 532.75,403.73 533.09,403.84 533.43,403.75 533.77,403.96 534.11,403.81 534.46,404.14 534.80,404.03 535.14,404.06 535.48,403.69 535.82,403.17 536.17,403.59 536.51,403.34 536.85,403.88 537.19,404.38 537.53,404.29 537.88,404.14 538.22,404.31 538.56,403.93 538.90,404.01 539.24,404.12 539.59,403.85 539.93,404.22 540.27,404.11 540.61,404.32 540.95,404.25 541.30,403.92 541.64,404.08 541.98,403.97 542.32,404.06 542.66,404.45 543.01,404.19 543.35,404.26 543.69,404.38 544.03,404.35 544.37,404.29 544.72,404.37 545.06,404.17 545.40,404.11" fill="none" stroke="#37AD6B" stroke-width="1.1" stroke-linejoin="round"/>
<polyline points="357.30,415.30 357.64,415.12 357.98,415.23 358.33,415.06 358.67,414.67 359.01,414.16 359.35,413.65 359.69,413.13 360.04,412.82 360.38,412.86 360.72,412.66 361.06,412.71 361.40,412.90 361.75,412.70 362.09,412.37 362.43,412.22 362.77,412.14 363.11,412.13 363.46,412.28 363.80,412.36 364.14,412.17 364.48,412.06 364.82,411.77 365.17,411.67 365.51,411.60 365.85,411.75 366.19,411.99 366.53,412.02 366.88,411.90 367.22,411.66 367.56,411.16 367.90,410.97 368.24,410.93 368.59,410.72 368.93,410.82 369.27,410.65 369.61,410.72 369.95,410.46 370.30,410.59 370.64,410.61 370.98,410.51 371.32,410.72 371.66,410.46 372.01,410.47 372.35,410.16 372.69,410.17 373.03,410.15 373.37,410.06 373.72,409.94 374.06,409.60 374.40,409.53 374.74,409.34 375.08,409.49 375.43,409.81 375.77,409.83 376.11,409.87 376.45,410.04 376.79,409.67 377.14,409.63 377.48,409.88 377.82,409.70 378.16,410.13 378.50,410.26 378.85,410.29 379.19,410.26 379.53,410.15 379.87,410.25 380.21,410.02 380.56,410.14 380.90,410.06 381.24,409.89 381.58,409.76 381.92,409.63 382.27,409.61 382.61,409.08 382.95,409.13 383.29,408.84 383.63,408.54 383.98,408.72 384.32,408.89 384.66,409.22 385.00,409.25 385.34,409.43 385.69,409.25 386.03,408.97 386.37,409.37 386.71,409.37 387.05,409.12 387.40,409.31 387.74,408.92 388.08,408.78 388.42,408.92 388.76,408.77 389.11,408.87 389.45,408.84 389.79,408.94 390.13,408.71 390.47,408.63 390.82,408.61 391.16,408.51 391.50,408.54 391.84,408.39 392.18,408.29 392.53,408.31 392.87,408.50 393.21,408.62 393.55,408.72 393.89,408.65 394.24,408.73 394.58,408.75 394.92,408.67 395.26,408.63 395.60,408.54 395.95,408.47 396.29,408.64 396.63,408.58 396.97,408.53 397.31,408.47 397.66,408.38 398.00,408.45 398.34,408.41 398.68,408.29 399.02,408.46 399.37,408.42 399.71,408.55 400.05,408.61 400.39,408.16 400.73,408.40 401.08,408.40 401.42,408.42 401.76,408.93 402.10,408.29 402.44,408.19 402.79,407.87 403.13,407.54 403.47,407.71 403.81,407.49 404.15,407.77 404.50,407.68 404.84,407.94 405.18,408.13 405.52,407.86 405.86,408.05 406.21,408.09 406.55,407.63 406.89,407.90 407.23,407.73 407.57,407.35 407.92,407.79 408.26,407.81 408.60,407.58 408.94,407.82 409.28,407.70 409.63,407.66 409.97,407.85 410.31,408.08 410.65,408.09 410.99,407.89 411.34,407.82 411.68,407.66 412.02,407.58 412.36,407.41 412.70,407.53 413.05,407.35 413.39,407.49 413.73,408.06 414.07,407.97 414.41,408.20 414.76,408.25 415.10,407.98 415.44,408.09 415.78,407.96 416.12,407.70 416.47,407.68 416.81,407.67 417.15,407.81 417.49,407.83 417.83,408.04 418.18,408.38 418.52,408.33 418.86,408.36 419.20,408.12 419.54,407.60 419.89,407.42 420.23,407.46 420.57,407.46 420.91,407.74 421.25,407.87 421.60,407.99 421.94,408.01 422.28,408.05 422.62,408.04 422.96,407.93 423.31,407.97 423.65,407.87 423.99,407.84 424.33,408.06 424.67,408.24 425.02,408.32 425.36,408.15 425.70,407.85 426.04,407.61 426.38,407.40 426.73,407.42 427.07,407.89 427.41,408.01 427.75,407.97 428.09,407.83 428.44,407.45 428.78,407.12 429.12,407.07 429.46,407.31 429.80,407.49 430.15,407.89 430.49,408.07 430.83,408.06 431.17,407.92 431.51,407.68 431.86,407.59 432.20,407.61 432.54,407.53 432.88,407.58 433.22,407.94 433.57,408.14 433.91,408.16 434.25,408.09 434.59,407.80 434.93,407.65 435.28,407.67 435.62,407.71 435.96,407.70 436.30,407.95 436.64,407.93 436.99,407.89 437.33,407.90 437.67,407.63 438.01,407.71 438.35,414.85 438.70,401.38 439.04,401.52 439.38,388.24 439.72,397.67 440.06,402.86 440.41,405.57 440.75,406.93 441.09,407.65 441.43,408.02 441.77,408.18 442.12,408.27 442.46,408.34 442.80,408.27 443.14,407.99 443.48,408.22 443.83,408.33 444.17,408.51 444.51,408.84 444.85,408.60 445.19,408.49 445.54,408.52 445.88,408.45 446.22,408.49 446.56,408.28 446.90,408.26 447.25,408.31 447.59,408.52 447.93,408.44 448.27,408.48 448.61,408.72 448.96,408.55 449.30,408.90 449.64,408.94 449.98,408.84 450.32,409.02 450.67,408.73 451.01,408.76 451.35,408.72 451.69,408.76 452.03,409.31 452.38,409.57 452.72,409.71 453.06,409.82 453.40,409.56 453.74,409.36 454.09,409.39 454.43,409.21 454.77,408.98 455.11,408.91 455.45,409.12 455.80,409.48 456.14,409.62 456.48,409.60 456.82,409.26 457.16,409.28 457.51,409.29 457.85,408.81 458.19,408.71 458.53,409.43 458.87,410.10 459.22,409.80 459.56,409.29 459.90,409.18 460.24,409.44 460.58,409.30 460.93,409.21 461.27,409.22 461.61,409.46 461.95,409.77 462.29,409.84 462.64,409.84 462.98,409.72 463.32,409.44 463.66,409.41 464.00,409.32 464.35,409.39 464.69,409.60 465.03,409.73 465.37,409.77 465.71,409.74 466.06,409.70 466.40,409.77 466.74,409.60 467.08,409.53 467.42,409.53 467.77,409.31 468.11,409.68 468.45,409.92 468.79,410.20 469.13,410.46 469.48,410.24 469.82,410.05 470.16,409.61 470.50,409.72 470.84,409.76 471.19,409.99 471.53,410.42 471.87,410.41 472.21,410.32 472.55,410.13 472.90,409.77 473.24,409.59 473.58,409.67 473.92,409.60 474.26,409.72 474.61,409.73 474.95,409.70 475.29,409.78 475.63,409.87 475.97,409.89 476.32,410.13 476.66,410.40 477.00,410.54 477.34,410.29 477.68,410.20 478.03,410.14 478.37,410.08 478.71,410.21 479.05,409.97 479.39,410.11 479.74,410.32 480.08,410.79 480.42,411.17 480.76,411.04 481.10,410.65 481.45,410.25 481.79,410.26 482.13,409.79 482.47,410.06 482.81,410.13 483.16,409.94 483.50,410.45 483.84,410.35 484.18,410.37 484.52,410.52 484.87,410.28 485.21,410.33 485.55,410.48 485.89,410.35 486.23,410.54 486.58,410.46 486.92,410.45 487.26,410.50 487.60,410.42 487.94,410.68 488.29,410.55 488.63,410.72 488.97,410.49 489.31,410.40 489.65,410.35 490.00,410.64 490.34,410.98 490.68,411.18 491.02,411.31 491.36,411.11 491.71,410.84 492.05,410.49 492.39,410.29 492.73,410.32 493.07,410.86 493.42,410.98 493.76,411.00 494.10,410.84 494.44,410.24 494.78,410.28 495.13,410.60 495.47,410.58 495.81,410.71 496.15,410.74 496.49,410.75 496.84,410.94 497.18,410.82 497.52,411.08 497.86,410.82 498.20,410.76 498.55,410.83 498.89,410.41 499.23,410.77 499.57,410.72 499.91,411.04 500.26,411.25 500.60,411.30 500.94,411.16 501.28,411.38 501.62,411.28 501.97,410.78 502.31,410.90 502.65,410.39 502.99,410.30 503.33,410.42 503.68,410.64 504.02,410.87 504.36,410.94 504.70,411.11 505.04,411.13 505.39,411.31 505.73,411.39 506.07,411.38 506.41,411.21 506.75,411.31 507.10,411.41 507.44,411.57 507.78,411.56 508.12,411.46 508.46,411.37 508.81,411.48 509.15,411.61 509.49,411.39 509.83,411.30 510.17,411.31 510.52,411.25 510.86,411.46 511.20,411.32 511.54,411.08 511.88,411.09 512.23,410.72 512.57,411.44 512.91,411.64 513.25,411.56 513.59,411.86 513.94,411.37 514.28,411.34 514.62,411.48 514.96,411.44 515.30,411.34 515.65,410.94 515.99,411.07 516.33,411.04 516.67,411.54 517.01,411.94 517.36,411.74 517.70,411.95 518.04,411.60 518.38,411.56 518.72,411.37 519.07,411.24 519.41,411.37 519.75,411.60 520.09,411.92 520.43,411.84 520.78,411.41 521.12,411.15 521.46,411.14 521.80,411.27 522.14,411.57 522.49,411.45 522.83,411.28 523.17,411.25 523.51,411.25 523.85,411.44 524.20,411.42 524.54,411.67 524.88,411.60 525.22,411.57 525.56,411.76 525.91,411.52 526.25,411.68 526.59,411.83 526.93,411.84 527.27,411.87 527.62,411.82 527.96,411.58 528.30,411.63 528.64,411.93 528.98,412.00 529.33,412.11 529.67,412.03 530.01,412.04 530.35,411.91 530.69,411.71 531.04,411.76 531.38,411.35 531.72,411.31 532.06,411.33 532.40,411.54 532.75,411.56 533.09,411.79 533.43,412.22 533.77,412.01 534.11,412.18 534.46,411.99 534.80,411.67 535.14,411.83 535.48,411.73 535.82,411.80 536.17,412.13 536.51,411.98 536.85,412.10 537.19,412.00 537.53,411.72 537.88,411.85 538.22,411.94 538.56,412.47 538.90,412.39 539.24,412.15 539.59,411.91 539.93,411.58 540.27,411.68 540.61,411.97 540.95,412.05 541.30,411.98 541.64,412.06 541.98,411.66 542.32,411.74 542.66,411.95 543.01,412.15 543.35,412.33 543.69,412.40 544.03,412.36 544.37,412.32 544.72,412.62 545.06,412.46 545.40,412.40" fill="none" stroke="#B177DE" stroke-width="1.1" stroke-linejoin="round"/>
</g>
<line x1="482.4" y1="253.50" x2="503.7" y2="253.50" stroke="#515151" stroke-width="1.2"/>
<text x="0" y="0" font-size="9" font-weight="bold" stroke="#000" stroke-width="0.22" transform="translate(506.4,256.60) scale(1,1.1)">300 nM</text>
<line x1="482.4" y1="265.20" x2="503.7" y2="265.20" stroke="#F14040" stroke-width="1.2"/>
<text x="0" y="0" font-size="9" font-weight="bold" stroke="#000" stroke-width="0.22" transform="translate(506.4,268.30) scale(1,1.1)">150 nM</text>
<line x1="482.4" y1="276.90" x2="503.7" y2="276.90" stroke="#1A6FDF" stroke-width="1.2"/>
<text x="0" y="0" font-size="9" font-weight="bold" stroke="#000" stroke-width="0.22" transform="translate(506.4,280.00) scale(1,1.1)">75 nM</text>
<line x1="482.4" y1="288.60" x2="503.7" y2="288.60" stroke="#37AD6B" stroke-width="1.2"/>
<text x="0" y="0" font-size="9" font-weight="bold" stroke="#000" stroke-width="0.22" transform="translate(506.4,291.70) scale(1,1.1)">37.5 nM</text>
<line x1="482.4" y1="300.30" x2="503.7" y2="300.30" stroke="#B177DE" stroke-width="1.2"/>
<text x="0" y="0" font-size="9" font-weight="bold" stroke="#000" stroke-width="0.22" transform="translate(506.4,303.40) scale(1,1.1)">18.75 nM</text>
<rect x="351.09999999999997" y="252.89999999999998" width="73.2" height="15.2" fill="#000"/>
<rect x="348.9" y="250.7" width="73.2" height="15.2" fill="#F8BC94" stroke="#000" stroke-width="1"/>
<text x="0" y="0" font-size="10.6" font-weight="bold" stroke="#000" stroke-width="0.22" transform="translate(351.0,262.09999999999997) scale(1.02,1.0)">SPR sensor 2</text>
</svg>
</body></html>
